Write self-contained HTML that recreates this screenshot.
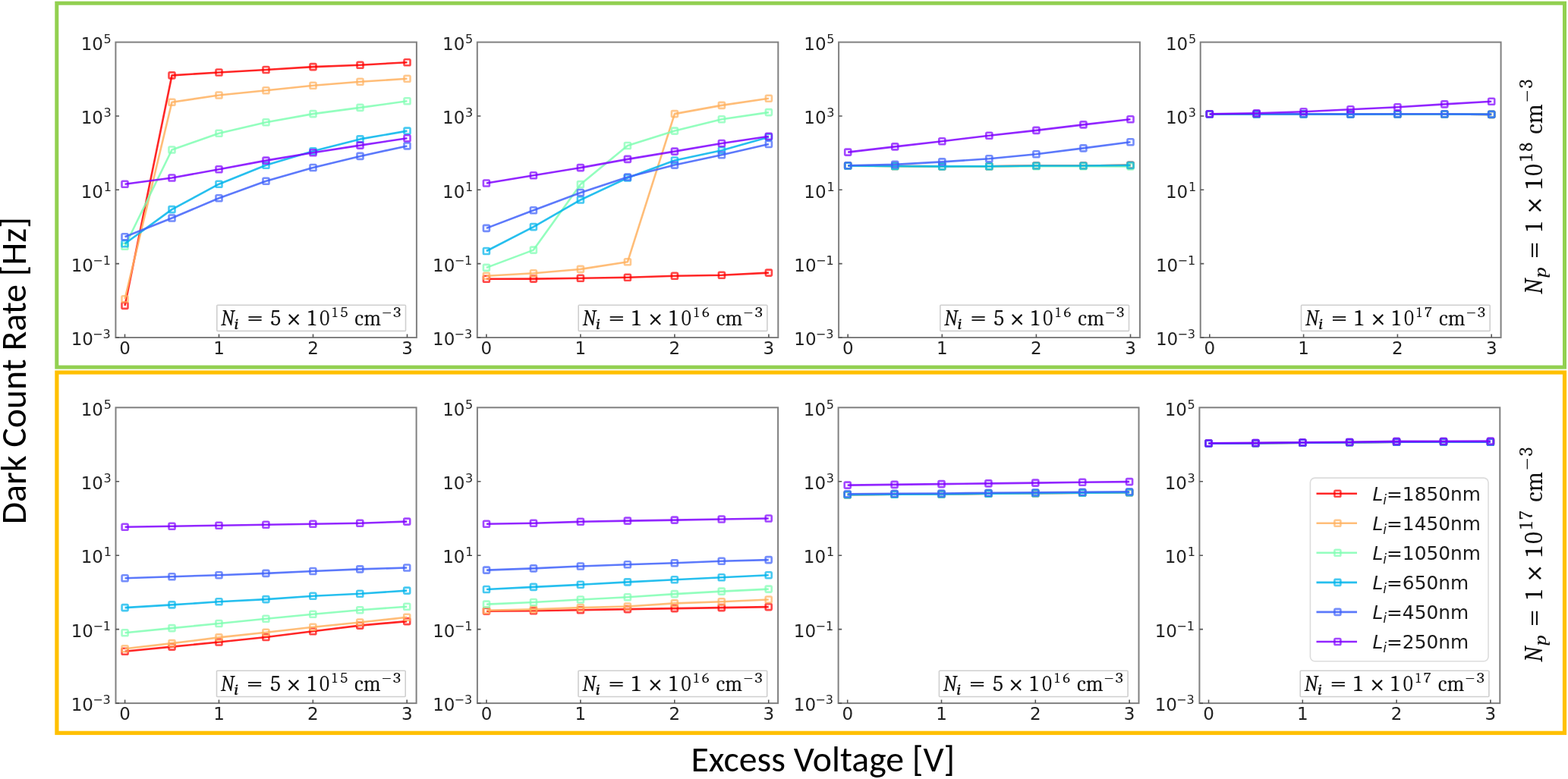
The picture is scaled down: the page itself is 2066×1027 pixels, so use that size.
<!DOCTYPE html><html><head><meta charset="utf-8"><title>Dark Count Rate vs Excess Voltage</title><style>html,body{margin:0;padding:0;background:#fff;}body{width:2066px;height:1027px;overflow:hidden;}svg{display:block;}.tk{font-family:"DejaVu Sans","Liberation Sans",sans-serif;font-size:23px;fill:#222;}.ann{font-family:"Caladea","Liberation Serif",serif;font-size:28.8px;fill:#111;}.lg{font-family:"DejaVu Sans","Liberation Sans",sans-serif;font-size:24px;fill:#1a1a1a;}.big{font-family:"Carlito","Liberation Sans",sans-serif;font-size:46.8px;fill:#000;}.np{font-family:"Caladea","Liberation Serif",serif;font-size:33px;fill:#111;}</style></head><body><svg width="2066" height="1027" viewBox="0 0 2066 1027"><rect x="0" y="0" width="2066" height="1027" fill="#fff"/><rect x="74.8" y="4.2" width="1986.7" height="479.9" fill="none" stroke="#92d050" stroke-width="5"/><rect x="74.9" y="491" width="1986.6" height="475.3" fill="none" stroke="#ffc000" stroke-width="5.2"/><g><polyline points="164.5,402.9 226.5,99.4 288.5,95.5 350.5,92 412.5,88.1 474.5,85.7 536.5,82.2" fill="none" stroke="#ff0000" stroke-width="2.6" stroke-opacity="0.85" stroke-linejoin="round"/><rect x="160.5" y="398.9" width="8" height="8" rx="1.3" fill="none" stroke="#ff0000" stroke-width="2.6" stroke-opacity="0.72"/><rect x="222.5" y="95.4" width="8" height="8" rx="1.3" fill="none" stroke="#ff0000" stroke-width="2.6" stroke-opacity="0.72"/><rect x="284.5" y="91.5" width="8" height="8" rx="1.3" fill="none" stroke="#ff0000" stroke-width="2.6" stroke-opacity="0.72"/><rect x="346.5" y="88" width="8" height="8" rx="1.3" fill="none" stroke="#ff0000" stroke-width="2.6" stroke-opacity="0.72"/><rect x="408.5" y="84.1" width="8" height="8" rx="1.3" fill="none" stroke="#ff0000" stroke-width="2.6" stroke-opacity="0.72"/><rect x="470.5" y="81.7" width="8" height="8" rx="1.3" fill="none" stroke="#ff0000" stroke-width="2.6" stroke-opacity="0.72"/><rect x="532.5" y="78.2" width="8" height="8" rx="1.3" fill="none" stroke="#ff0000" stroke-width="2.6" stroke-opacity="0.72"/><polyline points="164.5,394.3 226.5,134.8 288.5,125.5 350.5,119.2 412.5,112.7 474.5,107.8 536.5,103.7" fill="none" stroke="#ffb260" stroke-width="2.6" stroke-opacity="0.85" stroke-linejoin="round"/><rect x="160.5" y="390.3" width="8" height="8" rx="1.3" fill="none" stroke="#ffb260" stroke-width="2.6" stroke-opacity="0.72"/><rect x="222.5" y="130.8" width="8" height="8" rx="1.3" fill="none" stroke="#ffb260" stroke-width="2.6" stroke-opacity="0.72"/><rect x="284.5" y="121.5" width="8" height="8" rx="1.3" fill="none" stroke="#ffb260" stroke-width="2.6" stroke-opacity="0.72"/><rect x="346.5" y="115.2" width="8" height="8" rx="1.3" fill="none" stroke="#ffb260" stroke-width="2.6" stroke-opacity="0.72"/><rect x="408.5" y="108.7" width="8" height="8" rx="1.3" fill="none" stroke="#ffb260" stroke-width="2.6" stroke-opacity="0.72"/><rect x="470.5" y="103.8" width="8" height="8" rx="1.3" fill="none" stroke="#ffb260" stroke-width="2.6" stroke-opacity="0.72"/><rect x="532.5" y="99.7" width="8" height="8" rx="1.3" fill="none" stroke="#ffb260" stroke-width="2.6" stroke-opacity="0.72"/><polyline points="164.5,324.8 226.5,197.5 288.5,175.7 350.5,161.2 412.5,150.1 474.5,141.9 536.5,133.3" fill="none" stroke="#80feb3" stroke-width="2.6" stroke-opacity="0.85" stroke-linejoin="round"/><rect x="160.5" y="320.8" width="8" height="8" rx="1.3" fill="none" stroke="#80feb3" stroke-width="2.6" stroke-opacity="0.72"/><rect x="222.5" y="193.5" width="8" height="8" rx="1.3" fill="none" stroke="#80feb3" stroke-width="2.6" stroke-opacity="0.72"/><rect x="284.5" y="171.7" width="8" height="8" rx="1.3" fill="none" stroke="#80feb3" stroke-width="2.6" stroke-opacity="0.72"/><rect x="346.5" y="157.2" width="8" height="8" rx="1.3" fill="none" stroke="#80feb3" stroke-width="2.6" stroke-opacity="0.72"/><rect x="408.5" y="146.1" width="8" height="8" rx="1.3" fill="none" stroke="#80feb3" stroke-width="2.6" stroke-opacity="0.72"/><rect x="470.5" y="137.9" width="8" height="8" rx="1.3" fill="none" stroke="#80feb3" stroke-width="2.6" stroke-opacity="0.72"/><rect x="532.5" y="129.3" width="8" height="8" rx="1.3" fill="none" stroke="#80feb3" stroke-width="2.6" stroke-opacity="0.72"/><polyline points="164.5,321.2 226.5,276.1 288.5,242.7 350.5,217.8 412.5,199.2 474.5,183.4 536.5,172.6" fill="none" stroke="#00b4eb" stroke-width="2.6" stroke-opacity="0.85" stroke-linejoin="round"/><rect x="160.5" y="317.2" width="8" height="8" rx="1.3" fill="none" stroke="#00b4eb" stroke-width="2.6" stroke-opacity="0.72"/><rect x="222.5" y="272.1" width="8" height="8" rx="1.3" fill="none" stroke="#00b4eb" stroke-width="2.6" stroke-opacity="0.72"/><rect x="284.5" y="238.7" width="8" height="8" rx="1.3" fill="none" stroke="#00b4eb" stroke-width="2.6" stroke-opacity="0.72"/><rect x="346.5" y="213.8" width="8" height="8" rx="1.3" fill="none" stroke="#00b4eb" stroke-width="2.6" stroke-opacity="0.72"/><rect x="408.5" y="195.2" width="8" height="8" rx="1.3" fill="none" stroke="#00b4eb" stroke-width="2.6" stroke-opacity="0.72"/><rect x="470.5" y="179.4" width="8" height="8" rx="1.3" fill="none" stroke="#00b4eb" stroke-width="2.6" stroke-opacity="0.72"/><rect x="532.5" y="168.6" width="8" height="8" rx="1.3" fill="none" stroke="#00b4eb" stroke-width="2.6" stroke-opacity="0.72"/><polyline points="164.5,312.2 226.5,287.5 288.5,261.3 350.5,238.7 412.5,221 474.5,205.9 536.5,192.4" fill="none" stroke="#3f61fa" stroke-width="2.6" stroke-opacity="0.85" stroke-linejoin="round"/><rect x="160.5" y="308.2" width="8" height="8" rx="1.3" fill="none" stroke="#3f61fa" stroke-width="2.6" stroke-opacity="0.72"/><rect x="222.5" y="283.5" width="8" height="8" rx="1.3" fill="none" stroke="#3f61fa" stroke-width="2.6" stroke-opacity="0.72"/><rect x="284.5" y="257.3" width="8" height="8" rx="1.3" fill="none" stroke="#3f61fa" stroke-width="2.6" stroke-opacity="0.72"/><rect x="346.5" y="234.7" width="8" height="8" rx="1.3" fill="none" stroke="#3f61fa" stroke-width="2.6" stroke-opacity="0.72"/><rect x="408.5" y="217" width="8" height="8" rx="1.3" fill="none" stroke="#3f61fa" stroke-width="2.6" stroke-opacity="0.72"/><rect x="470.5" y="201.9" width="8" height="8" rx="1.3" fill="none" stroke="#3f61fa" stroke-width="2.6" stroke-opacity="0.72"/><rect x="532.5" y="188.4" width="8" height="8" rx="1.3" fill="none" stroke="#3f61fa" stroke-width="2.6" stroke-opacity="0.72"/><polyline points="164.5,242.7 226.5,234.5 288.5,223.2 350.5,211.6 412.5,201.2 474.5,191.6 536.5,182.2" fill="none" stroke="#7f00ff" stroke-width="2.6" stroke-opacity="0.85" stroke-linejoin="round"/><rect x="160.5" y="238.7" width="8" height="8" rx="1.3" fill="none" stroke="#7f00ff" stroke-width="2.6" stroke-opacity="0.72"/><rect x="222.5" y="230.5" width="8" height="8" rx="1.3" fill="none" stroke="#7f00ff" stroke-width="2.6" stroke-opacity="0.72"/><rect x="284.5" y="219.2" width="8" height="8" rx="1.3" fill="none" stroke="#7f00ff" stroke-width="2.6" stroke-opacity="0.72"/><rect x="346.5" y="207.6" width="8" height="8" rx="1.3" fill="none" stroke="#7f00ff" stroke-width="2.6" stroke-opacity="0.72"/><rect x="408.5" y="197.2" width="8" height="8" rx="1.3" fill="none" stroke="#7f00ff" stroke-width="2.6" stroke-opacity="0.72"/><rect x="470.5" y="187.6" width="8" height="8" rx="1.3" fill="none" stroke="#7f00ff" stroke-width="2.6" stroke-opacity="0.72"/><rect x="532.5" y="178.2" width="8" height="8" rx="1.3" fill="none" stroke="#7f00ff" stroke-width="2.6" stroke-opacity="0.72"/></g><rect x="152.4" y="55.6" width="396.5" height="389.4" fill="none" stroke="#808080" stroke-width="2"/><path d="M152.4 445h4.6M152.4 347.65h4.6M152.4 250.3h4.6M152.4 152.95h4.6M164.5 445v-4.6M288.5 445v-4.6M412.5 445v-4.6M536.5 445v-4.6" stroke="#555" stroke-width="1.6" fill="none"/><text class="tk" x="122.93" y="455.2" text-anchor="end">10</text><text class="tk" x="145.68" y="446.2" text-anchor="end" style="font-size:16px">−3</text><text class="tk" x="122.93" y="357.85" text-anchor="end">10</text><text class="tk" x="145.88" y="348.85" text-anchor="end" style="font-size:16px">−1</text><text class="tk" x="135.93" y="260.5" text-anchor="end">10</text><text class="tk" x="146.88" y="251.5" text-anchor="end" style="font-size:16px">1</text><text class="tk" x="135.93" y="163.15" text-anchor="end">10</text><text class="tk" x="146.68" y="154.15" text-anchor="end" style="font-size:16px">3</text><text class="tk" x="135.93" y="65.8" text-anchor="end">10</text><text class="tk" x="146.8" y="56.8" text-anchor="end" style="font-size:16px">5</text><text class="tk" x="164.5" y="466.5" text-anchor="middle">0</text><text class="tk" x="288.5" y="466.5" text-anchor="middle">1</text><text class="tk" x="412.5" y="466.5" text-anchor="middle">2</text><text class="tk" x="536.5" y="466.5" text-anchor="middle">3</text><rect x="285.8" y="402.2" width="248.7" height="34.2" fill="#fff" fill-opacity="0.8" stroke="#cfcfcf" stroke-width="1.6" rx="1"/><g fill="#111"><text x="291.05" y="429.3" textLength="17.84" lengthAdjust="spacingAndGlyphs" style="font-family:'Caladea','Liberation Serif',serif;font-size:29px;font-style:italic;">N</text><text x="308.07" y="433.9" textLength="6.96" lengthAdjust="spacingAndGlyphs" style="font-family:'Caladea','Liberation Serif',serif;font-size:20px;font-style:italic;">i</text><text x="324.92" y="429.3" textLength="22.16" lengthAdjust="spacingAndGlyphs" style="font-family:'Caladea','Liberation Serif',serif;font-size:31px;">=</text><text x="356.37" y="429.3" textLength="14.02" lengthAdjust="spacingAndGlyphs" style="font-family:'Caladea','Liberation Serif',serif;font-size:29px;">5</text><text x="377.02" y="431.8" textLength="20.35" lengthAdjust="spacingAndGlyphs" style="font-family:'Caladea','Liberation Serif',serif;font-size:37.5px;">×</text><text x="405.48" y="429.3" textLength="10.62" lengthAdjust="spacingAndGlyphs" style="font-family:'Caladea','Liberation Serif',serif;font-size:29px;">1</text><text x="421.35" y="429.3" textLength="13.01" lengthAdjust="spacingAndGlyphs" style="font-family:'Caladea','Liberation Serif',serif;font-size:29px;">0</text><text x="437.82" y="418.1" textLength="6.6" lengthAdjust="spacingAndGlyphs" style="font-family:'Caladea','Liberation Serif',serif;font-size:19px;">1</text><text x="448.51" y="418.1" textLength="10.08" lengthAdjust="spacingAndGlyphs" style="font-family:'Caladea','Liberation Serif',serif;font-size:19px;">5</text><text x="467.31" y="429.3" textLength="34.75" lengthAdjust="spacingAndGlyphs" style="font-family:'Caladea','Liberation Serif',serif;font-size:29px;">cm</text><text x="502.24" y="418.1" textLength="14.82" lengthAdjust="spacingAndGlyphs" style="font-family:'Caladea','Liberation Serif',serif;font-size:19px;">−</text><text x="518" y="418.1" textLength="10.41" lengthAdjust="spacingAndGlyphs" style="font-family:'Caladea','Liberation Serif',serif;font-size:19px;">3</text></g><g><polyline points="640.9,367.8 702.9,367.6 764.9,366.8 826.9,365.8 888.9,363.7 950.9,362.7 1012.9,359.6" fill="none" stroke="#ff0000" stroke-width="2.6" stroke-opacity="0.85" stroke-linejoin="round"/><rect x="636.9" y="363.8" width="8" height="8" rx="1.3" fill="none" stroke="#ff0000" stroke-width="2.6" stroke-opacity="0.72"/><rect x="698.9" y="363.6" width="8" height="8" rx="1.3" fill="none" stroke="#ff0000" stroke-width="2.6" stroke-opacity="0.72"/><rect x="760.9" y="362.8" width="8" height="8" rx="1.3" fill="none" stroke="#ff0000" stroke-width="2.6" stroke-opacity="0.72"/><rect x="822.9" y="361.8" width="8" height="8" rx="1.3" fill="none" stroke="#ff0000" stroke-width="2.6" stroke-opacity="0.72"/><rect x="884.9" y="359.7" width="8" height="8" rx="1.3" fill="none" stroke="#ff0000" stroke-width="2.6" stroke-opacity="0.72"/><rect x="946.9" y="358.7" width="8" height="8" rx="1.3" fill="none" stroke="#ff0000" stroke-width="2.6" stroke-opacity="0.72"/><rect x="1008.9" y="355.6" width="8" height="8" rx="1.3" fill="none" stroke="#ff0000" stroke-width="2.6" stroke-opacity="0.72"/><polyline points="640.9,363.7 702.9,360.2 764.9,354.9 826.9,345.3 888.9,150.1 950.9,138.9 1012.9,129.7" fill="none" stroke="#ffb260" stroke-width="2.6" stroke-opacity="0.85" stroke-linejoin="round"/><rect x="636.9" y="359.7" width="8" height="8" rx="1.3" fill="none" stroke="#ffb260" stroke-width="2.6" stroke-opacity="0.72"/><rect x="698.9" y="356.2" width="8" height="8" rx="1.3" fill="none" stroke="#ffb260" stroke-width="2.6" stroke-opacity="0.72"/><rect x="760.9" y="350.9" width="8" height="8" rx="1.3" fill="none" stroke="#ffb260" stroke-width="2.6" stroke-opacity="0.72"/><rect x="822.9" y="341.3" width="8" height="8" rx="1.3" fill="none" stroke="#ffb260" stroke-width="2.6" stroke-opacity="0.72"/><rect x="884.9" y="146.1" width="8" height="8" rx="1.3" fill="none" stroke="#ffb260" stroke-width="2.6" stroke-opacity="0.72"/><rect x="946.9" y="134.9" width="8" height="8" rx="1.3" fill="none" stroke="#ffb260" stroke-width="2.6" stroke-opacity="0.72"/><rect x="1008.9" y="125.7" width="8" height="8" rx="1.3" fill="none" stroke="#ffb260" stroke-width="2.6" stroke-opacity="0.72"/><polyline points="640.9,352.9 702.9,329.6 764.9,243.1 826.9,192 888.9,172.6 950.9,157.3 1012.9,148.1" fill="none" stroke="#80feb3" stroke-width="2.6" stroke-opacity="0.85" stroke-linejoin="round"/><rect x="636.9" y="348.9" width="8" height="8" rx="1.3" fill="none" stroke="#80feb3" stroke-width="2.6" stroke-opacity="0.72"/><rect x="698.9" y="325.6" width="8" height="8" rx="1.3" fill="none" stroke="#80feb3" stroke-width="2.6" stroke-opacity="0.72"/><rect x="760.9" y="239.1" width="8" height="8" rx="1.3" fill="none" stroke="#80feb3" stroke-width="2.6" stroke-opacity="0.72"/><rect x="822.9" y="188" width="8" height="8" rx="1.3" fill="none" stroke="#80feb3" stroke-width="2.6" stroke-opacity="0.72"/><rect x="884.9" y="168.6" width="8" height="8" rx="1.3" fill="none" stroke="#80feb3" stroke-width="2.6" stroke-opacity="0.72"/><rect x="946.9" y="153.3" width="8" height="8" rx="1.3" fill="none" stroke="#80feb3" stroke-width="2.6" stroke-opacity="0.72"/><rect x="1008.9" y="144.1" width="8" height="8" rx="1.3" fill="none" stroke="#80feb3" stroke-width="2.6" stroke-opacity="0.72"/><polyline points="640.9,331 702.9,299.1 764.9,263.5 826.9,234.5 888.9,211.5 950.9,198.2 1012.9,180.8" fill="none" stroke="#00b4eb" stroke-width="2.6" stroke-opacity="0.85" stroke-linejoin="round"/><rect x="636.9" y="327" width="8" height="8" rx="1.3" fill="none" stroke="#00b4eb" stroke-width="2.6" stroke-opacity="0.72"/><rect x="698.9" y="295.1" width="8" height="8" rx="1.3" fill="none" stroke="#00b4eb" stroke-width="2.6" stroke-opacity="0.72"/><rect x="760.9" y="259.5" width="8" height="8" rx="1.3" fill="none" stroke="#00b4eb" stroke-width="2.6" stroke-opacity="0.72"/><rect x="822.9" y="230.5" width="8" height="8" rx="1.3" fill="none" stroke="#00b4eb" stroke-width="2.6" stroke-opacity="0.72"/><rect x="884.9" y="207.5" width="8" height="8" rx="1.3" fill="none" stroke="#00b4eb" stroke-width="2.6" stroke-opacity="0.72"/><rect x="946.9" y="194.2" width="8" height="8" rx="1.3" fill="none" stroke="#00b4eb" stroke-width="2.6" stroke-opacity="0.72"/><rect x="1008.9" y="176.8" width="8" height="8" rx="1.3" fill="none" stroke="#00b4eb" stroke-width="2.6" stroke-opacity="0.72"/><polyline points="640.9,300.9 702.9,277.2 764.9,254 826.9,233.5 888.9,217.6 950.9,204.3 1012.9,190" fill="none" stroke="#3f61fa" stroke-width="2.6" stroke-opacity="0.85" stroke-linejoin="round"/><rect x="636.9" y="296.9" width="8" height="8" rx="1.3" fill="none" stroke="#3f61fa" stroke-width="2.6" stroke-opacity="0.72"/><rect x="698.9" y="273.2" width="8" height="8" rx="1.3" fill="none" stroke="#3f61fa" stroke-width="2.6" stroke-opacity="0.72"/><rect x="760.9" y="250" width="8" height="8" rx="1.3" fill="none" stroke="#3f61fa" stroke-width="2.6" stroke-opacity="0.72"/><rect x="822.9" y="229.5" width="8" height="8" rx="1.3" fill="none" stroke="#3f61fa" stroke-width="2.6" stroke-opacity="0.72"/><rect x="884.9" y="213.6" width="8" height="8" rx="1.3" fill="none" stroke="#3f61fa" stroke-width="2.6" stroke-opacity="0.72"/><rect x="946.9" y="200.3" width="8" height="8" rx="1.3" fill="none" stroke="#3f61fa" stroke-width="2.6" stroke-opacity="0.72"/><rect x="1008.9" y="186" width="8" height="8" rx="1.3" fill="none" stroke="#3f61fa" stroke-width="2.6" stroke-opacity="0.72"/><polyline points="640.9,241.5 702.9,231.3 764.9,221.1 826.9,209.9 888.9,199.6 950.9,189 1012.9,179.8" fill="none" stroke="#7f00ff" stroke-width="2.6" stroke-opacity="0.85" stroke-linejoin="round"/><rect x="636.9" y="237.5" width="8" height="8" rx="1.3" fill="none" stroke="#7f00ff" stroke-width="2.6" stroke-opacity="0.72"/><rect x="698.9" y="227.3" width="8" height="8" rx="1.3" fill="none" stroke="#7f00ff" stroke-width="2.6" stroke-opacity="0.72"/><rect x="760.9" y="217.1" width="8" height="8" rx="1.3" fill="none" stroke="#7f00ff" stroke-width="2.6" stroke-opacity="0.72"/><rect x="822.9" y="205.9" width="8" height="8" rx="1.3" fill="none" stroke="#7f00ff" stroke-width="2.6" stroke-opacity="0.72"/><rect x="884.9" y="195.6" width="8" height="8" rx="1.3" fill="none" stroke="#7f00ff" stroke-width="2.6" stroke-opacity="0.72"/><rect x="946.9" y="185" width="8" height="8" rx="1.3" fill="none" stroke="#7f00ff" stroke-width="2.6" stroke-opacity="0.72"/><rect x="1008.9" y="175.8" width="8" height="8" rx="1.3" fill="none" stroke="#7f00ff" stroke-width="2.6" stroke-opacity="0.72"/></g><rect x="628.8" y="55.6" width="396.5" height="389.4" fill="none" stroke="#808080" stroke-width="2"/><path d="M628.8 445h4.6M628.8 347.65h4.6M628.8 250.3h4.6M628.8 152.95h4.6M640.9 445v-4.6M764.9 445v-4.6M888.9 445v-4.6M1012.9 445v-4.6" stroke="#555" stroke-width="1.6" fill="none"/><text class="tk" x="599.33" y="455.2" text-anchor="end">10</text><text class="tk" x="622.08" y="446.2" text-anchor="end" style="font-size:16px">−3</text><text class="tk" x="599.33" y="357.85" text-anchor="end">10</text><text class="tk" x="622.28" y="348.85" text-anchor="end" style="font-size:16px">−1</text><text class="tk" x="612.33" y="260.5" text-anchor="end">10</text><text class="tk" x="623.28" y="251.5" text-anchor="end" style="font-size:16px">1</text><text class="tk" x="612.33" y="163.15" text-anchor="end">10</text><text class="tk" x="623.08" y="154.15" text-anchor="end" style="font-size:16px">3</text><text class="tk" x="612.33" y="65.8" text-anchor="end">10</text><text class="tk" x="623.2" y="56.8" text-anchor="end" style="font-size:16px">5</text><text class="tk" x="640.9" y="466.5" text-anchor="middle">0</text><text class="tk" x="764.9" y="466.5" text-anchor="middle">1</text><text class="tk" x="888.9" y="466.5" text-anchor="middle">2</text><text class="tk" x="1012.9" y="466.5" text-anchor="middle">3</text><rect x="762.2" y="402.2" width="248.7" height="34.2" fill="#fff" fill-opacity="0.8" stroke="#cfcfcf" stroke-width="1.6" rx="1"/><g fill="#111"><text x="767.45" y="429.3" textLength="17.84" lengthAdjust="spacingAndGlyphs" style="font-family:'Caladea','Liberation Serif',serif;font-size:29px;font-style:italic;">N</text><text x="784.47" y="433.9" textLength="6.96" lengthAdjust="spacingAndGlyphs" style="font-family:'Caladea','Liberation Serif',serif;font-size:20px;font-style:italic;">i</text><text x="801.32" y="429.3" textLength="22.16" lengthAdjust="spacingAndGlyphs" style="font-family:'Caladea','Liberation Serif',serif;font-size:31px;">=</text><text x="832.54" y="429.3" textLength="11.34" lengthAdjust="spacingAndGlyphs" style="font-family:'Caladea','Liberation Serif',serif;font-size:29px;">1</text><text x="853.42" y="431.8" textLength="20.35" lengthAdjust="spacingAndGlyphs" style="font-family:'Caladea','Liberation Serif',serif;font-size:37.5px;">×</text><text x="881.88" y="429.3" textLength="10.62" lengthAdjust="spacingAndGlyphs" style="font-family:'Caladea','Liberation Serif',serif;font-size:29px;">1</text><text x="897.75" y="429.3" textLength="13.01" lengthAdjust="spacingAndGlyphs" style="font-family:'Caladea','Liberation Serif',serif;font-size:29px;">0</text><text x="914.22" y="418.1" textLength="6.6" lengthAdjust="spacingAndGlyphs" style="font-family:'Caladea','Liberation Serif',serif;font-size:19px;">1</text><text x="924.96" y="418.1" textLength="9.71" lengthAdjust="spacingAndGlyphs" style="font-family:'Caladea','Liberation Serif',serif;font-size:19px;">6</text><text x="943.71" y="429.3" textLength="34.75" lengthAdjust="spacingAndGlyphs" style="font-family:'Caladea','Liberation Serif',serif;font-size:29px;">cm</text><text x="978.64" y="418.1" textLength="14.82" lengthAdjust="spacingAndGlyphs" style="font-family:'Caladea','Liberation Serif',serif;font-size:19px;">−</text><text x="994.4" y="418.1" textLength="10.41" lengthAdjust="spacingAndGlyphs" style="font-family:'Caladea','Liberation Serif',serif;font-size:19px;">3</text></g><g><polyline points="1117.2,218.5 1179.25,219 1241.3,219.4 1303.35,219.2 1365.4,218.5 1427.45,218.5 1489.5,217.9" fill="none" stroke="#ff0000" stroke-width="2.6" stroke-opacity="0.85" stroke-linejoin="round"/><rect x="1113.2" y="214.5" width="8" height="8" rx="1.3" fill="none" stroke="#ff0000" stroke-width="2.6" stroke-opacity="0.72"/><rect x="1175.25" y="215" width="8" height="8" rx="1.3" fill="none" stroke="#ff0000" stroke-width="2.6" stroke-opacity="0.72"/><rect x="1237.3" y="215.4" width="8" height="8" rx="1.3" fill="none" stroke="#ff0000" stroke-width="2.6" stroke-opacity="0.72"/><rect x="1299.35" y="215.2" width="8" height="8" rx="1.3" fill="none" stroke="#ff0000" stroke-width="2.6" stroke-opacity="0.72"/><rect x="1361.4" y="214.5" width="8" height="8" rx="1.3" fill="none" stroke="#ff0000" stroke-width="2.6" stroke-opacity="0.72"/><rect x="1423.45" y="214.5" width="8" height="8" rx="1.3" fill="none" stroke="#ff0000" stroke-width="2.6" stroke-opacity="0.72"/><rect x="1485.5" y="213.9" width="8" height="8" rx="1.3" fill="none" stroke="#ff0000" stroke-width="2.6" stroke-opacity="0.72"/><polyline points="1117.2,218.5 1179.25,219 1241.3,219.4 1303.35,219.2 1365.4,218.5 1427.45,218.5 1489.5,217.9" fill="none" stroke="#ffb260" stroke-width="2.6" stroke-opacity="0.85" stroke-linejoin="round"/><rect x="1113.2" y="214.5" width="8" height="8" rx="1.3" fill="none" stroke="#ffb260" stroke-width="2.6" stroke-opacity="0.72"/><rect x="1175.25" y="215" width="8" height="8" rx="1.3" fill="none" stroke="#ffb260" stroke-width="2.6" stroke-opacity="0.72"/><rect x="1237.3" y="215.4" width="8" height="8" rx="1.3" fill="none" stroke="#ffb260" stroke-width="2.6" stroke-opacity="0.72"/><rect x="1299.35" y="215.2" width="8" height="8" rx="1.3" fill="none" stroke="#ffb260" stroke-width="2.6" stroke-opacity="0.72"/><rect x="1361.4" y="214.5" width="8" height="8" rx="1.3" fill="none" stroke="#ffb260" stroke-width="2.6" stroke-opacity="0.72"/><rect x="1423.45" y="214.5" width="8" height="8" rx="1.3" fill="none" stroke="#ffb260" stroke-width="2.6" stroke-opacity="0.72"/><rect x="1485.5" y="213.9" width="8" height="8" rx="1.3" fill="none" stroke="#ffb260" stroke-width="2.6" stroke-opacity="0.72"/><polyline points="1117.2,218.8 1179.25,219.2 1241.3,219.4 1303.35,219.4 1365.4,219.2 1427.45,219.2 1489.5,219.4" fill="none" stroke="#80feb3" stroke-width="2.6" stroke-opacity="0.85" stroke-linejoin="round"/><rect x="1113.2" y="214.8" width="8" height="8" rx="1.3" fill="none" stroke="#80feb3" stroke-width="2.6" stroke-opacity="0.72"/><rect x="1175.25" y="215.2" width="8" height="8" rx="1.3" fill="none" stroke="#80feb3" stroke-width="2.6" stroke-opacity="0.72"/><rect x="1237.3" y="215.4" width="8" height="8" rx="1.3" fill="none" stroke="#80feb3" stroke-width="2.6" stroke-opacity="0.72"/><rect x="1299.35" y="215.4" width="8" height="8" rx="1.3" fill="none" stroke="#80feb3" stroke-width="2.6" stroke-opacity="0.72"/><rect x="1361.4" y="215.2" width="8" height="8" rx="1.3" fill="none" stroke="#80feb3" stroke-width="2.6" stroke-opacity="0.72"/><rect x="1423.45" y="215.2" width="8" height="8" rx="1.3" fill="none" stroke="#80feb3" stroke-width="2.6" stroke-opacity="0.72"/><rect x="1485.5" y="215.4" width="8" height="8" rx="1.3" fill="none" stroke="#80feb3" stroke-width="2.6" stroke-opacity="0.72"/><polyline points="1117.2,218.5 1179.25,219 1241.3,219.4 1303.35,219.2 1365.4,218.5 1427.45,218.5 1489.5,217.9" fill="none" stroke="#00b4eb" stroke-width="2.6" stroke-opacity="0.85" stroke-linejoin="round"/><rect x="1113.2" y="214.5" width="8" height="8" rx="1.3" fill="none" stroke="#00b4eb" stroke-width="2.6" stroke-opacity="0.72"/><rect x="1175.25" y="215" width="8" height="8" rx="1.3" fill="none" stroke="#00b4eb" stroke-width="2.6" stroke-opacity="0.72"/><rect x="1237.3" y="215.4" width="8" height="8" rx="1.3" fill="none" stroke="#00b4eb" stroke-width="2.6" stroke-opacity="0.72"/><rect x="1299.35" y="215.2" width="8" height="8" rx="1.3" fill="none" stroke="#00b4eb" stroke-width="2.6" stroke-opacity="0.72"/><rect x="1361.4" y="214.5" width="8" height="8" rx="1.3" fill="none" stroke="#00b4eb" stroke-width="2.6" stroke-opacity="0.72"/><rect x="1423.45" y="214.5" width="8" height="8" rx="1.3" fill="none" stroke="#00b4eb" stroke-width="2.6" stroke-opacity="0.72"/><rect x="1485.5" y="213.9" width="8" height="8" rx="1.3" fill="none" stroke="#00b4eb" stroke-width="2.6" stroke-opacity="0.72"/><polyline points="1117.2,218.3 1179.25,216.9 1241.3,213.4 1303.35,209.3 1365.4,203.2 1427.45,195.4 1489.5,187.3" fill="none" stroke="#3f61fa" stroke-width="2.6" stroke-opacity="0.85" stroke-linejoin="round"/><rect x="1113.2" y="214.3" width="8" height="8" rx="1.3" fill="none" stroke="#3f61fa" stroke-width="2.6" stroke-opacity="0.72"/><rect x="1175.25" y="212.9" width="8" height="8" rx="1.3" fill="none" stroke="#3f61fa" stroke-width="2.6" stroke-opacity="0.72"/><rect x="1237.3" y="209.4" width="8" height="8" rx="1.3" fill="none" stroke="#3f61fa" stroke-width="2.6" stroke-opacity="0.72"/><rect x="1299.35" y="205.3" width="8" height="8" rx="1.3" fill="none" stroke="#3f61fa" stroke-width="2.6" stroke-opacity="0.72"/><rect x="1361.4" y="199.2" width="8" height="8" rx="1.3" fill="none" stroke="#3f61fa" stroke-width="2.6" stroke-opacity="0.72"/><rect x="1423.45" y="191.4" width="8" height="8" rx="1.3" fill="none" stroke="#3f61fa" stroke-width="2.6" stroke-opacity="0.72"/><rect x="1485.5" y="183.3" width="8" height="8" rx="1.3" fill="none" stroke="#3f61fa" stroke-width="2.6" stroke-opacity="0.72"/><polyline points="1117.2,200.6 1179.25,193.4 1241.3,186.2 1303.35,178.7 1365.4,171.9 1427.45,164.4 1489.5,157.2" fill="none" stroke="#7f00ff" stroke-width="2.6" stroke-opacity="0.85" stroke-linejoin="round"/><rect x="1113.2" y="196.6" width="8" height="8" rx="1.3" fill="none" stroke="#7f00ff" stroke-width="2.6" stroke-opacity="0.72"/><rect x="1175.25" y="189.4" width="8" height="8" rx="1.3" fill="none" stroke="#7f00ff" stroke-width="2.6" stroke-opacity="0.72"/><rect x="1237.3" y="182.2" width="8" height="8" rx="1.3" fill="none" stroke="#7f00ff" stroke-width="2.6" stroke-opacity="0.72"/><rect x="1299.35" y="174.7" width="8" height="8" rx="1.3" fill="none" stroke="#7f00ff" stroke-width="2.6" stroke-opacity="0.72"/><rect x="1361.4" y="167.9" width="8" height="8" rx="1.3" fill="none" stroke="#7f00ff" stroke-width="2.6" stroke-opacity="0.72"/><rect x="1423.45" y="160.4" width="8" height="8" rx="1.3" fill="none" stroke="#7f00ff" stroke-width="2.6" stroke-opacity="0.72"/><rect x="1485.5" y="153.2" width="8" height="8" rx="1.3" fill="none" stroke="#7f00ff" stroke-width="2.6" stroke-opacity="0.72"/></g><rect x="1105.1" y="55.6" width="396.8" height="389.4" fill="none" stroke="#808080" stroke-width="2"/><path d="M1105.1 445h4.6M1105.1 347.65h4.6M1105.1 250.3h4.6M1105.1 152.95h4.6M1117.2 445v-4.6M1241.3 445v-4.6M1365.4 445v-4.6M1489.5 445v-4.6" stroke="#555" stroke-width="1.6" fill="none"/><text class="tk" x="1075.63" y="455.2" text-anchor="end">10</text><text class="tk" x="1098.38" y="446.2" text-anchor="end" style="font-size:16px">−3</text><text class="tk" x="1075.63" y="357.85" text-anchor="end">10</text><text class="tk" x="1098.58" y="348.85" text-anchor="end" style="font-size:16px">−1</text><text class="tk" x="1088.63" y="260.5" text-anchor="end">10</text><text class="tk" x="1099.58" y="251.5" text-anchor="end" style="font-size:16px">1</text><text class="tk" x="1088.63" y="163.15" text-anchor="end">10</text><text class="tk" x="1099.38" y="154.15" text-anchor="end" style="font-size:16px">3</text><text class="tk" x="1088.63" y="65.8" text-anchor="end">10</text><text class="tk" x="1099.5" y="56.8" text-anchor="end" style="font-size:16px">5</text><text class="tk" x="1117.2" y="466.5" text-anchor="middle">0</text><text class="tk" x="1241.3" y="466.5" text-anchor="middle">1</text><text class="tk" x="1365.4" y="466.5" text-anchor="middle">2</text><text class="tk" x="1489.5" y="466.5" text-anchor="middle">3</text><rect x="1238.8" y="402.2" width="248.7" height="34.2" fill="#fff" fill-opacity="0.8" stroke="#cfcfcf" stroke-width="1.6" rx="1"/><g fill="#111"><text x="1244.05" y="429.3" textLength="17.84" lengthAdjust="spacingAndGlyphs" style="font-family:'Caladea','Liberation Serif',serif;font-size:29px;font-style:italic;">N</text><text x="1261.07" y="433.9" textLength="6.96" lengthAdjust="spacingAndGlyphs" style="font-family:'Caladea','Liberation Serif',serif;font-size:20px;font-style:italic;">i</text><text x="1277.92" y="429.3" textLength="22.16" lengthAdjust="spacingAndGlyphs" style="font-family:'Caladea','Liberation Serif',serif;font-size:31px;">=</text><text x="1309.37" y="429.3" textLength="14.02" lengthAdjust="spacingAndGlyphs" style="font-family:'Caladea','Liberation Serif',serif;font-size:29px;">5</text><text x="1330.02" y="431.8" textLength="20.35" lengthAdjust="spacingAndGlyphs" style="font-family:'Caladea','Liberation Serif',serif;font-size:37.5px;">×</text><text x="1358.48" y="429.3" textLength="10.62" lengthAdjust="spacingAndGlyphs" style="font-family:'Caladea','Liberation Serif',serif;font-size:29px;">1</text><text x="1374.35" y="429.3" textLength="13.01" lengthAdjust="spacingAndGlyphs" style="font-family:'Caladea','Liberation Serif',serif;font-size:29px;">0</text><text x="1390.82" y="418.1" textLength="6.6" lengthAdjust="spacingAndGlyphs" style="font-family:'Caladea','Liberation Serif',serif;font-size:19px;">1</text><text x="1401.56" y="418.1" textLength="9.71" lengthAdjust="spacingAndGlyphs" style="font-family:'Caladea','Liberation Serif',serif;font-size:19px;">6</text><text x="1420.31" y="429.3" textLength="34.75" lengthAdjust="spacingAndGlyphs" style="font-family:'Caladea','Liberation Serif',serif;font-size:29px;">cm</text><text x="1455.24" y="418.1" textLength="14.82" lengthAdjust="spacingAndGlyphs" style="font-family:'Caladea','Liberation Serif',serif;font-size:19px;">−</text><text x="1471" y="418.1" textLength="10.41" lengthAdjust="spacingAndGlyphs" style="font-family:'Caladea','Liberation Serif',serif;font-size:19px;">3</text></g><g><polyline points="1593.8,150.5 1655.7,150.5 1717.6,150.5 1779.5,150.6 1841.4,150.5 1903.3,150.5 1965.2,150.9" fill="none" stroke="#ff0000" stroke-width="2.6" stroke-opacity="0.85" stroke-linejoin="round"/><rect x="1589.8" y="146.5" width="8" height="8" rx="1.3" fill="none" stroke="#ff0000" stroke-width="2.6" stroke-opacity="0.72"/><rect x="1651.7" y="146.5" width="8" height="8" rx="1.3" fill="none" stroke="#ff0000" stroke-width="2.6" stroke-opacity="0.72"/><rect x="1713.6" y="146.5" width="8" height="8" rx="1.3" fill="none" stroke="#ff0000" stroke-width="2.6" stroke-opacity="0.72"/><rect x="1775.5" y="146.6" width="8" height="8" rx="1.3" fill="none" stroke="#ff0000" stroke-width="2.6" stroke-opacity="0.72"/><rect x="1837.4" y="146.5" width="8" height="8" rx="1.3" fill="none" stroke="#ff0000" stroke-width="2.6" stroke-opacity="0.72"/><rect x="1899.3" y="146.5" width="8" height="8" rx="1.3" fill="none" stroke="#ff0000" stroke-width="2.6" stroke-opacity="0.72"/><rect x="1961.2" y="146.9" width="8" height="8" rx="1.3" fill="none" stroke="#ff0000" stroke-width="2.6" stroke-opacity="0.72"/><polyline points="1593.8,150.5 1655.7,150.5 1717.6,150.5 1779.5,150.6 1841.4,150.5 1903.3,150.5 1965.2,150.9" fill="none" stroke="#ffb260" stroke-width="2.6" stroke-opacity="0.85" stroke-linejoin="round"/><rect x="1589.8" y="146.5" width="8" height="8" rx="1.3" fill="none" stroke="#ffb260" stroke-width="2.6" stroke-opacity="0.72"/><rect x="1651.7" y="146.5" width="8" height="8" rx="1.3" fill="none" stroke="#ffb260" stroke-width="2.6" stroke-opacity="0.72"/><rect x="1713.6" y="146.5" width="8" height="8" rx="1.3" fill="none" stroke="#ffb260" stroke-width="2.6" stroke-opacity="0.72"/><rect x="1775.5" y="146.6" width="8" height="8" rx="1.3" fill="none" stroke="#ffb260" stroke-width="2.6" stroke-opacity="0.72"/><rect x="1837.4" y="146.5" width="8" height="8" rx="1.3" fill="none" stroke="#ffb260" stroke-width="2.6" stroke-opacity="0.72"/><rect x="1899.3" y="146.5" width="8" height="8" rx="1.3" fill="none" stroke="#ffb260" stroke-width="2.6" stroke-opacity="0.72"/><rect x="1961.2" y="146.9" width="8" height="8" rx="1.3" fill="none" stroke="#ffb260" stroke-width="2.6" stroke-opacity="0.72"/><polyline points="1593.8,150.5 1655.7,150.5 1717.6,150.5 1779.5,150.6 1841.4,150.5 1903.3,150.5 1965.2,150.9" fill="none" stroke="#80feb3" stroke-width="2.6" stroke-opacity="0.85" stroke-linejoin="round"/><rect x="1589.8" y="146.5" width="8" height="8" rx="1.3" fill="none" stroke="#80feb3" stroke-width="2.6" stroke-opacity="0.72"/><rect x="1651.7" y="146.5" width="8" height="8" rx="1.3" fill="none" stroke="#80feb3" stroke-width="2.6" stroke-opacity="0.72"/><rect x="1713.6" y="146.5" width="8" height="8" rx="1.3" fill="none" stroke="#80feb3" stroke-width="2.6" stroke-opacity="0.72"/><rect x="1775.5" y="146.6" width="8" height="8" rx="1.3" fill="none" stroke="#80feb3" stroke-width="2.6" stroke-opacity="0.72"/><rect x="1837.4" y="146.5" width="8" height="8" rx="1.3" fill="none" stroke="#80feb3" stroke-width="2.6" stroke-opacity="0.72"/><rect x="1899.3" y="146.5" width="8" height="8" rx="1.3" fill="none" stroke="#80feb3" stroke-width="2.6" stroke-opacity="0.72"/><rect x="1961.2" y="146.9" width="8" height="8" rx="1.3" fill="none" stroke="#80feb3" stroke-width="2.6" stroke-opacity="0.72"/><polyline points="1593.8,150.5 1655.7,150.5 1717.6,150.5 1779.5,150.6 1841.4,150.5 1903.3,150.5 1965.2,150.9" fill="none" stroke="#00b4eb" stroke-width="2.6" stroke-opacity="0.85" stroke-linejoin="round"/><rect x="1589.8" y="146.5" width="8" height="8" rx="1.3" fill="none" stroke="#00b4eb" stroke-width="2.6" stroke-opacity="0.72"/><rect x="1651.7" y="146.5" width="8" height="8" rx="1.3" fill="none" stroke="#00b4eb" stroke-width="2.6" stroke-opacity="0.72"/><rect x="1713.6" y="146.5" width="8" height="8" rx="1.3" fill="none" stroke="#00b4eb" stroke-width="2.6" stroke-opacity="0.72"/><rect x="1775.5" y="146.6" width="8" height="8" rx="1.3" fill="none" stroke="#00b4eb" stroke-width="2.6" stroke-opacity="0.72"/><rect x="1837.4" y="146.5" width="8" height="8" rx="1.3" fill="none" stroke="#00b4eb" stroke-width="2.6" stroke-opacity="0.72"/><rect x="1899.3" y="146.5" width="8" height="8" rx="1.3" fill="none" stroke="#00b4eb" stroke-width="2.6" stroke-opacity="0.72"/><rect x="1961.2" y="146.9" width="8" height="8" rx="1.3" fill="none" stroke="#00b4eb" stroke-width="2.6" stroke-opacity="0.72"/><polyline points="1593.8,150.3 1655.7,150.3 1717.6,150.3 1779.5,150.5 1841.4,150.3 1903.3,150.3 1965.2,150.8" fill="none" stroke="#3f61fa" stroke-width="2.6" stroke-opacity="0.85" stroke-linejoin="round"/><rect x="1589.8" y="146.3" width="8" height="8" rx="1.3" fill="none" stroke="#3f61fa" stroke-width="2.6" stroke-opacity="0.72"/><rect x="1651.7" y="146.3" width="8" height="8" rx="1.3" fill="none" stroke="#3f61fa" stroke-width="2.6" stroke-opacity="0.72"/><rect x="1713.6" y="146.3" width="8" height="8" rx="1.3" fill="none" stroke="#3f61fa" stroke-width="2.6" stroke-opacity="0.72"/><rect x="1775.5" y="146.5" width="8" height="8" rx="1.3" fill="none" stroke="#3f61fa" stroke-width="2.6" stroke-opacity="0.72"/><rect x="1837.4" y="146.3" width="8" height="8" rx="1.3" fill="none" stroke="#3f61fa" stroke-width="2.6" stroke-opacity="0.72"/><rect x="1899.3" y="146.3" width="8" height="8" rx="1.3" fill="none" stroke="#3f61fa" stroke-width="2.6" stroke-opacity="0.72"/><rect x="1961.2" y="146.8" width="8" height="8" rx="1.3" fill="none" stroke="#3f61fa" stroke-width="2.6" stroke-opacity="0.72"/><polyline points="1593.8,150.3 1655.7,149.3 1717.6,147.3 1779.5,144.2 1841.4,141.2 1903.3,137.4 1965.2,133.8" fill="none" stroke="#7f00ff" stroke-width="2.6" stroke-opacity="0.85" stroke-linejoin="round"/><rect x="1589.8" y="146.3" width="8" height="8" rx="1.3" fill="none" stroke="#7f00ff" stroke-width="2.6" stroke-opacity="0.72"/><rect x="1651.7" y="145.3" width="8" height="8" rx="1.3" fill="none" stroke="#7f00ff" stroke-width="2.6" stroke-opacity="0.72"/><rect x="1713.6" y="143.3" width="8" height="8" rx="1.3" fill="none" stroke="#7f00ff" stroke-width="2.6" stroke-opacity="0.72"/><rect x="1775.5" y="140.2" width="8" height="8" rx="1.3" fill="none" stroke="#7f00ff" stroke-width="2.6" stroke-opacity="0.72"/><rect x="1837.4" y="137.2" width="8" height="8" rx="1.3" fill="none" stroke="#7f00ff" stroke-width="2.6" stroke-opacity="0.72"/><rect x="1899.3" y="133.4" width="8" height="8" rx="1.3" fill="none" stroke="#7f00ff" stroke-width="2.6" stroke-opacity="0.72"/><rect x="1961.2" y="129.8" width="8" height="8" rx="1.3" fill="none" stroke="#7f00ff" stroke-width="2.6" stroke-opacity="0.72"/></g><rect x="1581.7" y="55.6" width="395.9" height="389.4" fill="none" stroke="#808080" stroke-width="2"/><path d="M1581.7 445h4.6M1581.7 347.65h4.6M1581.7 250.3h4.6M1581.7 152.95h4.6M1593.8 445v-4.6M1717.6 445v-4.6M1841.4 445v-4.6M1965.2 445v-4.6" stroke="#555" stroke-width="1.6" fill="none"/><text class="tk" x="1552.23" y="455.2" text-anchor="end">10</text><text class="tk" x="1574.98" y="446.2" text-anchor="end" style="font-size:16px">−3</text><text class="tk" x="1552.23" y="357.85" text-anchor="end">10</text><text class="tk" x="1575.18" y="348.85" text-anchor="end" style="font-size:16px">−1</text><text class="tk" x="1565.23" y="260.5" text-anchor="end">10</text><text class="tk" x="1576.18" y="251.5" text-anchor="end" style="font-size:16px">1</text><text class="tk" x="1565.23" y="163.15" text-anchor="end">10</text><text class="tk" x="1575.98" y="154.15" text-anchor="end" style="font-size:16px">3</text><text class="tk" x="1565.23" y="65.8" text-anchor="end">10</text><text class="tk" x="1576.1" y="56.8" text-anchor="end" style="font-size:16px">5</text><text class="tk" x="1593.8" y="466.5" text-anchor="middle">0</text><text class="tk" x="1717.6" y="466.5" text-anchor="middle">1</text><text class="tk" x="1841.4" y="466.5" text-anchor="middle">2</text><text class="tk" x="1965.2" y="466.5" text-anchor="middle">3</text><rect x="1714.5" y="402.2" width="248.7" height="34.2" fill="#fff" fill-opacity="0.8" stroke="#cfcfcf" stroke-width="1.6" rx="1"/><g fill="#111"><text x="1719.75" y="429.3" textLength="17.84" lengthAdjust="spacingAndGlyphs" style="font-family:'Caladea','Liberation Serif',serif;font-size:29px;font-style:italic;">N</text><text x="1736.77" y="433.9" textLength="6.96" lengthAdjust="spacingAndGlyphs" style="font-family:'Caladea','Liberation Serif',serif;font-size:20px;font-style:italic;">i</text><text x="1753.62" y="429.3" textLength="22.16" lengthAdjust="spacingAndGlyphs" style="font-family:'Caladea','Liberation Serif',serif;font-size:31px;">=</text><text x="1784.84" y="429.3" textLength="11.34" lengthAdjust="spacingAndGlyphs" style="font-family:'Caladea','Liberation Serif',serif;font-size:29px;">1</text><text x="1805.72" y="431.8" textLength="20.35" lengthAdjust="spacingAndGlyphs" style="font-family:'Caladea','Liberation Serif',serif;font-size:37.5px;">×</text><text x="1834.18" y="429.3" textLength="10.62" lengthAdjust="spacingAndGlyphs" style="font-family:'Caladea','Liberation Serif',serif;font-size:29px;">1</text><text x="1850.05" y="429.3" textLength="13.01" lengthAdjust="spacingAndGlyphs" style="font-family:'Caladea','Liberation Serif',serif;font-size:29px;">0</text><text x="1866.52" y="418.1" textLength="6.6" lengthAdjust="spacingAndGlyphs" style="font-family:'Caladea','Liberation Serif',serif;font-size:19px;">1</text><text x="1877.13" y="418.1" textLength="9.78" lengthAdjust="spacingAndGlyphs" style="font-family:'Caladea','Liberation Serif',serif;font-size:19px;">7</text><text x="1896.01" y="429.3" textLength="34.75" lengthAdjust="spacingAndGlyphs" style="font-family:'Caladea','Liberation Serif',serif;font-size:29px;">cm</text><text x="1930.94" y="418.1" textLength="14.82" lengthAdjust="spacingAndGlyphs" style="font-family:'Caladea','Liberation Serif',serif;font-size:19px;">−</text><text x="1946.7" y="418.1" textLength="10.41" lengthAdjust="spacingAndGlyphs" style="font-family:'Caladea','Liberation Serif',serif;font-size:19px;">3</text></g><g><polyline points="164.6,858.8 226.53,852.6 288.47,846.5 350.4,840 412.33,832.2 474.27,824.6 536.2,819.1" fill="none" stroke="#ff0000" stroke-width="2.6" stroke-opacity="0.85" stroke-linejoin="round"/><rect x="160.6" y="854.8" width="8" height="8" rx="1.3" fill="none" stroke="#ff0000" stroke-width="2.6" stroke-opacity="0.72"/><rect x="222.53" y="848.6" width="8" height="8" rx="1.3" fill="none" stroke="#ff0000" stroke-width="2.6" stroke-opacity="0.72"/><rect x="284.47" y="842.5" width="8" height="8" rx="1.3" fill="none" stroke="#ff0000" stroke-width="2.6" stroke-opacity="0.72"/><rect x="346.4" y="836" width="8" height="8" rx="1.3" fill="none" stroke="#ff0000" stroke-width="2.6" stroke-opacity="0.72"/><rect x="408.33" y="828.2" width="8" height="8" rx="1.3" fill="none" stroke="#ff0000" stroke-width="2.6" stroke-opacity="0.72"/><rect x="470.27" y="820.6" width="8" height="8" rx="1.3" fill="none" stroke="#ff0000" stroke-width="2.6" stroke-opacity="0.72"/><rect x="532.2" y="815.1" width="8" height="8" rx="1.3" fill="none" stroke="#ff0000" stroke-width="2.6" stroke-opacity="0.72"/><polyline points="164.6,855.3 226.53,848.1 288.47,840.4 350.4,833.8 412.33,826.7 474.27,820.5 536.2,813.8" fill="none" stroke="#ffb260" stroke-width="2.6" stroke-opacity="0.85" stroke-linejoin="round"/><rect x="160.6" y="851.3" width="8" height="8" rx="1.3" fill="none" stroke="#ffb260" stroke-width="2.6" stroke-opacity="0.72"/><rect x="222.53" y="844.1" width="8" height="8" rx="1.3" fill="none" stroke="#ffb260" stroke-width="2.6" stroke-opacity="0.72"/><rect x="284.47" y="836.4" width="8" height="8" rx="1.3" fill="none" stroke="#ffb260" stroke-width="2.6" stroke-opacity="0.72"/><rect x="346.4" y="829.8" width="8" height="8" rx="1.3" fill="none" stroke="#ffb260" stroke-width="2.6" stroke-opacity="0.72"/><rect x="408.33" y="822.7" width="8" height="8" rx="1.3" fill="none" stroke="#ffb260" stroke-width="2.6" stroke-opacity="0.72"/><rect x="470.27" y="816.5" width="8" height="8" rx="1.3" fill="none" stroke="#ffb260" stroke-width="2.6" stroke-opacity="0.72"/><rect x="532.2" y="809.8" width="8" height="8" rx="1.3" fill="none" stroke="#ffb260" stroke-width="2.6" stroke-opacity="0.72"/><polyline points="164.6,834.2 226.53,828.1 288.47,822 350.4,815.8 412.33,809.7 474.27,804.2 536.2,799.7" fill="none" stroke="#80feb3" stroke-width="2.6" stroke-opacity="0.85" stroke-linejoin="round"/><rect x="160.6" y="830.2" width="8" height="8" rx="1.3" fill="none" stroke="#80feb3" stroke-width="2.6" stroke-opacity="0.72"/><rect x="222.53" y="824.1" width="8" height="8" rx="1.3" fill="none" stroke="#80feb3" stroke-width="2.6" stroke-opacity="0.72"/><rect x="284.47" y="818" width="8" height="8" rx="1.3" fill="none" stroke="#80feb3" stroke-width="2.6" stroke-opacity="0.72"/><rect x="346.4" y="811.8" width="8" height="8" rx="1.3" fill="none" stroke="#80feb3" stroke-width="2.6" stroke-opacity="0.72"/><rect x="408.33" y="805.7" width="8" height="8" rx="1.3" fill="none" stroke="#80feb3" stroke-width="2.6" stroke-opacity="0.72"/><rect x="470.27" y="800.2" width="8" height="8" rx="1.3" fill="none" stroke="#80feb3" stroke-width="2.6" stroke-opacity="0.72"/><rect x="532.2" y="795.7" width="8" height="8" rx="1.3" fill="none" stroke="#80feb3" stroke-width="2.6" stroke-opacity="0.72"/><polyline points="164.6,801.1 226.53,797.4 288.47,793.3 350.4,790.1 412.33,785.8 474.27,782.7 536.2,778.6" fill="none" stroke="#00b4eb" stroke-width="2.6" stroke-opacity="0.85" stroke-linejoin="round"/><rect x="160.6" y="797.1" width="8" height="8" rx="1.3" fill="none" stroke="#00b4eb" stroke-width="2.6" stroke-opacity="0.72"/><rect x="222.53" y="793.4" width="8" height="8" rx="1.3" fill="none" stroke="#00b4eb" stroke-width="2.6" stroke-opacity="0.72"/><rect x="284.47" y="789.3" width="8" height="8" rx="1.3" fill="none" stroke="#00b4eb" stroke-width="2.6" stroke-opacity="0.72"/><rect x="346.4" y="786.1" width="8" height="8" rx="1.3" fill="none" stroke="#00b4eb" stroke-width="2.6" stroke-opacity="0.72"/><rect x="408.33" y="781.8" width="8" height="8" rx="1.3" fill="none" stroke="#00b4eb" stroke-width="2.6" stroke-opacity="0.72"/><rect x="470.27" y="778.7" width="8" height="8" rx="1.3" fill="none" stroke="#00b4eb" stroke-width="2.6" stroke-opacity="0.72"/><rect x="532.2" y="774.6" width="8" height="8" rx="1.3" fill="none" stroke="#00b4eb" stroke-width="2.6" stroke-opacity="0.72"/><polyline points="164.6,762.2 226.53,760.2 288.47,758.2 350.4,755.9 412.33,753 474.27,750.4 536.2,748.5" fill="none" stroke="#3f61fa" stroke-width="2.6" stroke-opacity="0.85" stroke-linejoin="round"/><rect x="160.6" y="758.2" width="8" height="8" rx="1.3" fill="none" stroke="#3f61fa" stroke-width="2.6" stroke-opacity="0.72"/><rect x="222.53" y="756.2" width="8" height="8" rx="1.3" fill="none" stroke="#3f61fa" stroke-width="2.6" stroke-opacity="0.72"/><rect x="284.47" y="754.2" width="8" height="8" rx="1.3" fill="none" stroke="#3f61fa" stroke-width="2.6" stroke-opacity="0.72"/><rect x="346.4" y="751.9" width="8" height="8" rx="1.3" fill="none" stroke="#3f61fa" stroke-width="2.6" stroke-opacity="0.72"/><rect x="408.33" y="749" width="8" height="8" rx="1.3" fill="none" stroke="#3f61fa" stroke-width="2.6" stroke-opacity="0.72"/><rect x="470.27" y="746.4" width="8" height="8" rx="1.3" fill="none" stroke="#3f61fa" stroke-width="2.6" stroke-opacity="0.72"/><rect x="532.2" y="744.5" width="8" height="8" rx="1.3" fill="none" stroke="#3f61fa" stroke-width="2.6" stroke-opacity="0.72"/><polyline points="164.6,694.8 226.53,693.7 288.47,692.7 350.4,691.7 412.33,690.7 474.27,689.7 536.2,687.6" fill="none" stroke="#7f00ff" stroke-width="2.6" stroke-opacity="0.85" stroke-linejoin="round"/><rect x="160.6" y="690.8" width="8" height="8" rx="1.3" fill="none" stroke="#7f00ff" stroke-width="2.6" stroke-opacity="0.72"/><rect x="222.53" y="689.7" width="8" height="8" rx="1.3" fill="none" stroke="#7f00ff" stroke-width="2.6" stroke-opacity="0.72"/><rect x="284.47" y="688.7" width="8" height="8" rx="1.3" fill="none" stroke="#7f00ff" stroke-width="2.6" stroke-opacity="0.72"/><rect x="346.4" y="687.7" width="8" height="8" rx="1.3" fill="none" stroke="#7f00ff" stroke-width="2.6" stroke-opacity="0.72"/><rect x="408.33" y="686.7" width="8" height="8" rx="1.3" fill="none" stroke="#7f00ff" stroke-width="2.6" stroke-opacity="0.72"/><rect x="470.27" y="685.7" width="8" height="8" rx="1.3" fill="none" stroke="#7f00ff" stroke-width="2.6" stroke-opacity="0.72"/><rect x="532.2" y="683.6" width="8" height="8" rx="1.3" fill="none" stroke="#7f00ff" stroke-width="2.6" stroke-opacity="0.72"/></g><rect x="152.5" y="537.3" width="396.1" height="389.8" fill="none" stroke="#808080" stroke-width="2"/><path d="M152.5 927.1h4.6M152.5 829.65h4.6M152.5 732.2h4.6M152.5 634.75h4.6M164.6 927.1v-4.6M288.47 927.1v-4.6M412.33 927.1v-4.6M536.2 927.1v-4.6" stroke="#555" stroke-width="1.6" fill="none"/><text class="tk" x="123.03" y="937.3" text-anchor="end">10</text><text class="tk" x="145.78" y="928.3" text-anchor="end" style="font-size:16px">−3</text><text class="tk" x="123.03" y="839.85" text-anchor="end">10</text><text class="tk" x="145.98" y="830.85" text-anchor="end" style="font-size:16px">−1</text><text class="tk" x="136.03" y="742.4" text-anchor="end">10</text><text class="tk" x="146.98" y="733.4" text-anchor="end" style="font-size:16px">1</text><text class="tk" x="136.03" y="644.95" text-anchor="end">10</text><text class="tk" x="146.78" y="635.95" text-anchor="end" style="font-size:16px">3</text><text class="tk" x="136.03" y="547.5" text-anchor="end">10</text><text class="tk" x="146.9" y="538.5" text-anchor="end" style="font-size:16px">5</text><text class="tk" x="164.6" y="948.6" text-anchor="middle">0</text><text class="tk" x="288.47" y="948.6" text-anchor="middle">1</text><text class="tk" x="412.33" y="948.6" text-anchor="middle">2</text><text class="tk" x="536.2" y="948.6" text-anchor="middle">3</text><rect x="285.5" y="884.3" width="248.7" height="34.2" fill="#fff" fill-opacity="0.8" stroke="#cfcfcf" stroke-width="1.6" rx="1"/><g fill="#111"><text x="290.75" y="911.4" textLength="17.84" lengthAdjust="spacingAndGlyphs" style="font-family:'Caladea','Liberation Serif',serif;font-size:29px;font-style:italic;">N</text><text x="307.77" y="916" textLength="6.96" lengthAdjust="spacingAndGlyphs" style="font-family:'Caladea','Liberation Serif',serif;font-size:20px;font-style:italic;">i</text><text x="324.62" y="911.4" textLength="22.16" lengthAdjust="spacingAndGlyphs" style="font-family:'Caladea','Liberation Serif',serif;font-size:31px;">=</text><text x="356.07" y="911.4" textLength="14.02" lengthAdjust="spacingAndGlyphs" style="font-family:'Caladea','Liberation Serif',serif;font-size:29px;">5</text><text x="376.72" y="913.9" textLength="20.35" lengthAdjust="spacingAndGlyphs" style="font-family:'Caladea','Liberation Serif',serif;font-size:37.5px;">×</text><text x="405.18" y="911.4" textLength="10.62" lengthAdjust="spacingAndGlyphs" style="font-family:'Caladea','Liberation Serif',serif;font-size:29px;">1</text><text x="421.05" y="911.4" textLength="13.01" lengthAdjust="spacingAndGlyphs" style="font-family:'Caladea','Liberation Serif',serif;font-size:29px;">0</text><text x="437.52" y="900.2" textLength="6.6" lengthAdjust="spacingAndGlyphs" style="font-family:'Caladea','Liberation Serif',serif;font-size:19px;">1</text><text x="448.21" y="900.2" textLength="10.08" lengthAdjust="spacingAndGlyphs" style="font-family:'Caladea','Liberation Serif',serif;font-size:19px;">5</text><text x="467.01" y="911.4" textLength="34.75" lengthAdjust="spacingAndGlyphs" style="font-family:'Caladea','Liberation Serif',serif;font-size:29px;">cm</text><text x="501.94" y="900.2" textLength="14.82" lengthAdjust="spacingAndGlyphs" style="font-family:'Caladea','Liberation Serif',serif;font-size:19px;">−</text><text x="517.7" y="900.2" textLength="10.41" lengthAdjust="spacingAndGlyphs" style="font-family:'Caladea','Liberation Serif',serif;font-size:19px;">3</text></g><g><polyline points="641,805.6 702.95,805.2 764.9,804.2 826.85,803.1 888.8,802.1 950.75,801.1 1012.7,800.1" fill="none" stroke="#ff0000" stroke-width="2.6" stroke-opacity="0.85" stroke-linejoin="round"/><rect x="637" y="801.6" width="8" height="8" rx="1.3" fill="none" stroke="#ff0000" stroke-width="2.6" stroke-opacity="0.72"/><rect x="698.95" y="801.2" width="8" height="8" rx="1.3" fill="none" stroke="#ff0000" stroke-width="2.6" stroke-opacity="0.72"/><rect x="760.9" y="800.2" width="8" height="8" rx="1.3" fill="none" stroke="#ff0000" stroke-width="2.6" stroke-opacity="0.72"/><rect x="822.85" y="799.1" width="8" height="8" rx="1.3" fill="none" stroke="#ff0000" stroke-width="2.6" stroke-opacity="0.72"/><rect x="884.8" y="798.1" width="8" height="8" rx="1.3" fill="none" stroke="#ff0000" stroke-width="2.6" stroke-opacity="0.72"/><rect x="946.75" y="797.1" width="8" height="8" rx="1.3" fill="none" stroke="#ff0000" stroke-width="2.6" stroke-opacity="0.72"/><rect x="1008.7" y="796.1" width="8" height="8" rx="1.3" fill="none" stroke="#ff0000" stroke-width="2.6" stroke-opacity="0.72"/><polyline points="641,804.8 702.95,803.4 764.9,801.1 826.85,799.5 888.8,795.4 950.75,793.3 1012.7,790.5" fill="none" stroke="#ffb260" stroke-width="2.6" stroke-opacity="0.85" stroke-linejoin="round"/><rect x="637" y="800.8" width="8" height="8" rx="1.3" fill="none" stroke="#ffb260" stroke-width="2.6" stroke-opacity="0.72"/><rect x="698.95" y="799.4" width="8" height="8" rx="1.3" fill="none" stroke="#ffb260" stroke-width="2.6" stroke-opacity="0.72"/><rect x="760.9" y="797.1" width="8" height="8" rx="1.3" fill="none" stroke="#ffb260" stroke-width="2.6" stroke-opacity="0.72"/><rect x="822.85" y="795.5" width="8" height="8" rx="1.3" fill="none" stroke="#ffb260" stroke-width="2.6" stroke-opacity="0.72"/><rect x="884.8" y="791.4" width="8" height="8" rx="1.3" fill="none" stroke="#ffb260" stroke-width="2.6" stroke-opacity="0.72"/><rect x="946.75" y="789.3" width="8" height="8" rx="1.3" fill="none" stroke="#ffb260" stroke-width="2.6" stroke-opacity="0.72"/><rect x="1008.7" y="786.5" width="8" height="8" rx="1.3" fill="none" stroke="#ffb260" stroke-width="2.6" stroke-opacity="0.72"/><polyline points="641,796.6 702.95,794 764.9,790.5 826.85,787.2 888.8,783.1 950.75,779.6 1012.7,776.6" fill="none" stroke="#80feb3" stroke-width="2.6" stroke-opacity="0.85" stroke-linejoin="round"/><rect x="637" y="792.6" width="8" height="8" rx="1.3" fill="none" stroke="#80feb3" stroke-width="2.6" stroke-opacity="0.72"/><rect x="698.95" y="790" width="8" height="8" rx="1.3" fill="none" stroke="#80feb3" stroke-width="2.6" stroke-opacity="0.72"/><rect x="760.9" y="786.5" width="8" height="8" rx="1.3" fill="none" stroke="#80feb3" stroke-width="2.6" stroke-opacity="0.72"/><rect x="822.85" y="783.2" width="8" height="8" rx="1.3" fill="none" stroke="#80feb3" stroke-width="2.6" stroke-opacity="0.72"/><rect x="884.8" y="779.1" width="8" height="8" rx="1.3" fill="none" stroke="#80feb3" stroke-width="2.6" stroke-opacity="0.72"/><rect x="946.75" y="775.6" width="8" height="8" rx="1.3" fill="none" stroke="#80feb3" stroke-width="2.6" stroke-opacity="0.72"/><rect x="1008.7" y="772.6" width="8" height="8" rx="1.3" fill="none" stroke="#80feb3" stroke-width="2.6" stroke-opacity="0.72"/><polyline points="641,777 702.95,773.9 764.9,770.8 826.85,767.4 888.8,764.3 950.75,761.2 1012.7,758.2" fill="none" stroke="#00b4eb" stroke-width="2.6" stroke-opacity="0.85" stroke-linejoin="round"/><rect x="637" y="773" width="8" height="8" rx="1.3" fill="none" stroke="#00b4eb" stroke-width="2.6" stroke-opacity="0.72"/><rect x="698.95" y="769.9" width="8" height="8" rx="1.3" fill="none" stroke="#00b4eb" stroke-width="2.6" stroke-opacity="0.72"/><rect x="760.9" y="766.8" width="8" height="8" rx="1.3" fill="none" stroke="#00b4eb" stroke-width="2.6" stroke-opacity="0.72"/><rect x="822.85" y="763.4" width="8" height="8" rx="1.3" fill="none" stroke="#00b4eb" stroke-width="2.6" stroke-opacity="0.72"/><rect x="884.8" y="760.3" width="8" height="8" rx="1.3" fill="none" stroke="#00b4eb" stroke-width="2.6" stroke-opacity="0.72"/><rect x="946.75" y="757.2" width="8" height="8" rx="1.3" fill="none" stroke="#00b4eb" stroke-width="2.6" stroke-opacity="0.72"/><rect x="1008.7" y="754.2" width="8" height="8" rx="1.3" fill="none" stroke="#00b4eb" stroke-width="2.6" stroke-opacity="0.72"/><polyline points="641,751.6 702.95,749.4 764.9,746.5 826.85,744.3 888.8,742.2 950.75,739.8 1012.7,738.1" fill="none" stroke="#3f61fa" stroke-width="2.6" stroke-opacity="0.85" stroke-linejoin="round"/><rect x="637" y="747.6" width="8" height="8" rx="1.3" fill="none" stroke="#3f61fa" stroke-width="2.6" stroke-opacity="0.72"/><rect x="698.95" y="745.4" width="8" height="8" rx="1.3" fill="none" stroke="#3f61fa" stroke-width="2.6" stroke-opacity="0.72"/><rect x="760.9" y="742.5" width="8" height="8" rx="1.3" fill="none" stroke="#3f61fa" stroke-width="2.6" stroke-opacity="0.72"/><rect x="822.85" y="740.3" width="8" height="8" rx="1.3" fill="none" stroke="#3f61fa" stroke-width="2.6" stroke-opacity="0.72"/><rect x="884.8" y="738.2" width="8" height="8" rx="1.3" fill="none" stroke="#3f61fa" stroke-width="2.6" stroke-opacity="0.72"/><rect x="946.75" y="735.8" width="8" height="8" rx="1.3" fill="none" stroke="#3f61fa" stroke-width="2.6" stroke-opacity="0.72"/><rect x="1008.7" y="734.1" width="8" height="8" rx="1.3" fill="none" stroke="#3f61fa" stroke-width="2.6" stroke-opacity="0.72"/><polyline points="641,690.7 702.95,689.7 764.9,687.8 826.85,686.6 888.8,685.6 950.75,684.5 1012.7,683.5" fill="none" stroke="#7f00ff" stroke-width="2.6" stroke-opacity="0.85" stroke-linejoin="round"/><rect x="637" y="686.7" width="8" height="8" rx="1.3" fill="none" stroke="#7f00ff" stroke-width="2.6" stroke-opacity="0.72"/><rect x="698.95" y="685.7" width="8" height="8" rx="1.3" fill="none" stroke="#7f00ff" stroke-width="2.6" stroke-opacity="0.72"/><rect x="760.9" y="683.8" width="8" height="8" rx="1.3" fill="none" stroke="#7f00ff" stroke-width="2.6" stroke-opacity="0.72"/><rect x="822.85" y="682.6" width="8" height="8" rx="1.3" fill="none" stroke="#7f00ff" stroke-width="2.6" stroke-opacity="0.72"/><rect x="884.8" y="681.6" width="8" height="8" rx="1.3" fill="none" stroke="#7f00ff" stroke-width="2.6" stroke-opacity="0.72"/><rect x="946.75" y="680.5" width="8" height="8" rx="1.3" fill="none" stroke="#7f00ff" stroke-width="2.6" stroke-opacity="0.72"/><rect x="1008.7" y="679.5" width="8" height="8" rx="1.3" fill="none" stroke="#7f00ff" stroke-width="2.6" stroke-opacity="0.72"/></g><rect x="628.9" y="537.3" width="396.2" height="389.8" fill="none" stroke="#808080" stroke-width="2"/><path d="M628.9 927.1h4.6M628.9 829.65h4.6M628.9 732.2h4.6M628.9 634.75h4.6M641 927.1v-4.6M764.9 927.1v-4.6M888.8 927.1v-4.6M1012.7 927.1v-4.6" stroke="#555" stroke-width="1.6" fill="none"/><text class="tk" x="599.43" y="937.3" text-anchor="end">10</text><text class="tk" x="622.18" y="928.3" text-anchor="end" style="font-size:16px">−3</text><text class="tk" x="599.43" y="839.85" text-anchor="end">10</text><text class="tk" x="622.38" y="830.85" text-anchor="end" style="font-size:16px">−1</text><text class="tk" x="612.43" y="742.4" text-anchor="end">10</text><text class="tk" x="623.38" y="733.4" text-anchor="end" style="font-size:16px">1</text><text class="tk" x="612.43" y="644.95" text-anchor="end">10</text><text class="tk" x="623.18" y="635.95" text-anchor="end" style="font-size:16px">3</text><text class="tk" x="612.43" y="547.5" text-anchor="end">10</text><text class="tk" x="623.3" y="538.5" text-anchor="end" style="font-size:16px">5</text><text class="tk" x="641" y="948.6" text-anchor="middle">0</text><text class="tk" x="764.9" y="948.6" text-anchor="middle">1</text><text class="tk" x="888.8" y="948.6" text-anchor="middle">2</text><text class="tk" x="1012.7" y="948.6" text-anchor="middle">3</text><rect x="762" y="884.3" width="248.7" height="34.2" fill="#fff" fill-opacity="0.8" stroke="#cfcfcf" stroke-width="1.6" rx="1"/><g fill="#111"><text x="767.25" y="911.4" textLength="17.84" lengthAdjust="spacingAndGlyphs" style="font-family:'Caladea','Liberation Serif',serif;font-size:29px;font-style:italic;">N</text><text x="784.27" y="916" textLength="6.96" lengthAdjust="spacingAndGlyphs" style="font-family:'Caladea','Liberation Serif',serif;font-size:20px;font-style:italic;">i</text><text x="801.12" y="911.4" textLength="22.16" lengthAdjust="spacingAndGlyphs" style="font-family:'Caladea','Liberation Serif',serif;font-size:31px;">=</text><text x="832.34" y="911.4" textLength="11.34" lengthAdjust="spacingAndGlyphs" style="font-family:'Caladea','Liberation Serif',serif;font-size:29px;">1</text><text x="853.22" y="913.9" textLength="20.35" lengthAdjust="spacingAndGlyphs" style="font-family:'Caladea','Liberation Serif',serif;font-size:37.5px;">×</text><text x="881.68" y="911.4" textLength="10.62" lengthAdjust="spacingAndGlyphs" style="font-family:'Caladea','Liberation Serif',serif;font-size:29px;">1</text><text x="897.55" y="911.4" textLength="13.01" lengthAdjust="spacingAndGlyphs" style="font-family:'Caladea','Liberation Serif',serif;font-size:29px;">0</text><text x="914.02" y="900.2" textLength="6.6" lengthAdjust="spacingAndGlyphs" style="font-family:'Caladea','Liberation Serif',serif;font-size:19px;">1</text><text x="924.76" y="900.2" textLength="9.71" lengthAdjust="spacingAndGlyphs" style="font-family:'Caladea','Liberation Serif',serif;font-size:19px;">6</text><text x="943.51" y="911.4" textLength="34.75" lengthAdjust="spacingAndGlyphs" style="font-family:'Caladea','Liberation Serif',serif;font-size:29px;">cm</text><text x="978.44" y="900.2" textLength="14.82" lengthAdjust="spacingAndGlyphs" style="font-family:'Caladea','Liberation Serif',serif;font-size:19px;">−</text><text x="994.2" y="900.2" textLength="10.41" lengthAdjust="spacingAndGlyphs" style="font-family:'Caladea','Liberation Serif',serif;font-size:19px;">3</text></g><g><polyline points="1116.7,652.3 1178.6,651.8 1240.5,651.5 1302.4,650.8 1364.3,650.3 1426.2,649.8 1488.1,649.3" fill="none" stroke="#ff0000" stroke-width="2.6" stroke-opacity="0.85" stroke-linejoin="round"/><rect x="1112.7" y="648.3" width="8" height="8" rx="1.3" fill="none" stroke="#ff0000" stroke-width="2.6" stroke-opacity="0.72"/><rect x="1174.6" y="647.8" width="8" height="8" rx="1.3" fill="none" stroke="#ff0000" stroke-width="2.6" stroke-opacity="0.72"/><rect x="1236.5" y="647.5" width="8" height="8" rx="1.3" fill="none" stroke="#ff0000" stroke-width="2.6" stroke-opacity="0.72"/><rect x="1298.4" y="646.8" width="8" height="8" rx="1.3" fill="none" stroke="#ff0000" stroke-width="2.6" stroke-opacity="0.72"/><rect x="1360.3" y="646.3" width="8" height="8" rx="1.3" fill="none" stroke="#ff0000" stroke-width="2.6" stroke-opacity="0.72"/><rect x="1422.2" y="645.8" width="8" height="8" rx="1.3" fill="none" stroke="#ff0000" stroke-width="2.6" stroke-opacity="0.72"/><rect x="1484.1" y="645.3" width="8" height="8" rx="1.3" fill="none" stroke="#ff0000" stroke-width="2.6" stroke-opacity="0.72"/><polyline points="1116.7,652.3 1178.6,651.8 1240.5,651.5 1302.4,650.8 1364.3,650.3 1426.2,649.8 1488.1,649.3" fill="none" stroke="#ffb260" stroke-width="2.6" stroke-opacity="0.85" stroke-linejoin="round"/><rect x="1112.7" y="648.3" width="8" height="8" rx="1.3" fill="none" stroke="#ffb260" stroke-width="2.6" stroke-opacity="0.72"/><rect x="1174.6" y="647.8" width="8" height="8" rx="1.3" fill="none" stroke="#ffb260" stroke-width="2.6" stroke-opacity="0.72"/><rect x="1236.5" y="647.5" width="8" height="8" rx="1.3" fill="none" stroke="#ffb260" stroke-width="2.6" stroke-opacity="0.72"/><rect x="1298.4" y="646.8" width="8" height="8" rx="1.3" fill="none" stroke="#ffb260" stroke-width="2.6" stroke-opacity="0.72"/><rect x="1360.3" y="646.3" width="8" height="8" rx="1.3" fill="none" stroke="#ffb260" stroke-width="2.6" stroke-opacity="0.72"/><rect x="1422.2" y="645.8" width="8" height="8" rx="1.3" fill="none" stroke="#ffb260" stroke-width="2.6" stroke-opacity="0.72"/><rect x="1484.1" y="645.3" width="8" height="8" rx="1.3" fill="none" stroke="#ffb260" stroke-width="2.6" stroke-opacity="0.72"/><polyline points="1116.7,652.3 1178.6,651.8 1240.5,651.5 1302.4,650.8 1364.3,650.3 1426.2,649.8 1488.1,649.3" fill="none" stroke="#80feb3" stroke-width="2.6" stroke-opacity="0.85" stroke-linejoin="round"/><rect x="1112.7" y="648.3" width="8" height="8" rx="1.3" fill="none" stroke="#80feb3" stroke-width="2.6" stroke-opacity="0.72"/><rect x="1174.6" y="647.8" width="8" height="8" rx="1.3" fill="none" stroke="#80feb3" stroke-width="2.6" stroke-opacity="0.72"/><rect x="1236.5" y="647.5" width="8" height="8" rx="1.3" fill="none" stroke="#80feb3" stroke-width="2.6" stroke-opacity="0.72"/><rect x="1298.4" y="646.8" width="8" height="8" rx="1.3" fill="none" stroke="#80feb3" stroke-width="2.6" stroke-opacity="0.72"/><rect x="1360.3" y="646.3" width="8" height="8" rx="1.3" fill="none" stroke="#80feb3" stroke-width="2.6" stroke-opacity="0.72"/><rect x="1422.2" y="645.8" width="8" height="8" rx="1.3" fill="none" stroke="#80feb3" stroke-width="2.6" stroke-opacity="0.72"/><rect x="1484.1" y="645.3" width="8" height="8" rx="1.3" fill="none" stroke="#80feb3" stroke-width="2.6" stroke-opacity="0.72"/><polyline points="1116.7,652.3 1178.6,651.8 1240.5,651.5 1302.4,650.8 1364.3,650.3 1426.2,649.8 1488.1,649.3" fill="none" stroke="#00b4eb" stroke-width="2.6" stroke-opacity="0.85" stroke-linejoin="round"/><rect x="1112.7" y="648.3" width="8" height="8" rx="1.3" fill="none" stroke="#00b4eb" stroke-width="2.6" stroke-opacity="0.72"/><rect x="1174.6" y="647.8" width="8" height="8" rx="1.3" fill="none" stroke="#00b4eb" stroke-width="2.6" stroke-opacity="0.72"/><rect x="1236.5" y="647.5" width="8" height="8" rx="1.3" fill="none" stroke="#00b4eb" stroke-width="2.6" stroke-opacity="0.72"/><rect x="1298.4" y="646.8" width="8" height="8" rx="1.3" fill="none" stroke="#00b4eb" stroke-width="2.6" stroke-opacity="0.72"/><rect x="1360.3" y="646.3" width="8" height="8" rx="1.3" fill="none" stroke="#00b4eb" stroke-width="2.6" stroke-opacity="0.72"/><rect x="1422.2" y="645.8" width="8" height="8" rx="1.3" fill="none" stroke="#00b4eb" stroke-width="2.6" stroke-opacity="0.72"/><rect x="1484.1" y="645.3" width="8" height="8" rx="1.3" fill="none" stroke="#00b4eb" stroke-width="2.6" stroke-opacity="0.72"/><polyline points="1116.7,651.3 1178.6,650.8 1240.5,650.5 1302.4,649.8 1364.3,649.3 1426.2,648.8 1488.1,648.3" fill="none" stroke="#3f61fa" stroke-width="2.6" stroke-opacity="0.85" stroke-linejoin="round"/><rect x="1112.7" y="647.3" width="8" height="8" rx="1.3" fill="none" stroke="#3f61fa" stroke-width="2.6" stroke-opacity="0.72"/><rect x="1174.6" y="646.8" width="8" height="8" rx="1.3" fill="none" stroke="#3f61fa" stroke-width="2.6" stroke-opacity="0.72"/><rect x="1236.5" y="646.5" width="8" height="8" rx="1.3" fill="none" stroke="#3f61fa" stroke-width="2.6" stroke-opacity="0.72"/><rect x="1298.4" y="645.8" width="8" height="8" rx="1.3" fill="none" stroke="#3f61fa" stroke-width="2.6" stroke-opacity="0.72"/><rect x="1360.3" y="645.3" width="8" height="8" rx="1.3" fill="none" stroke="#3f61fa" stroke-width="2.6" stroke-opacity="0.72"/><rect x="1422.2" y="644.8" width="8" height="8" rx="1.3" fill="none" stroke="#3f61fa" stroke-width="2.6" stroke-opacity="0.72"/><rect x="1484.1" y="644.3" width="8" height="8" rx="1.3" fill="none" stroke="#3f61fa" stroke-width="2.6" stroke-opacity="0.72"/><polyline points="1116.7,639.6 1178.6,638.9 1240.5,638.1 1302.4,637.4 1364.3,636.6 1426.2,635.8 1488.1,635.1" fill="none" stroke="#7f00ff" stroke-width="2.6" stroke-opacity="0.85" stroke-linejoin="round"/><rect x="1112.7" y="635.6" width="8" height="8" rx="1.3" fill="none" stroke="#7f00ff" stroke-width="2.6" stroke-opacity="0.72"/><rect x="1174.6" y="634.9" width="8" height="8" rx="1.3" fill="none" stroke="#7f00ff" stroke-width="2.6" stroke-opacity="0.72"/><rect x="1236.5" y="634.1" width="8" height="8" rx="1.3" fill="none" stroke="#7f00ff" stroke-width="2.6" stroke-opacity="0.72"/><rect x="1298.4" y="633.4" width="8" height="8" rx="1.3" fill="none" stroke="#7f00ff" stroke-width="2.6" stroke-opacity="0.72"/><rect x="1360.3" y="632.6" width="8" height="8" rx="1.3" fill="none" stroke="#7f00ff" stroke-width="2.6" stroke-opacity="0.72"/><rect x="1422.2" y="631.8" width="8" height="8" rx="1.3" fill="none" stroke="#7f00ff" stroke-width="2.6" stroke-opacity="0.72"/><rect x="1484.1" y="631.1" width="8" height="8" rx="1.3" fill="none" stroke="#7f00ff" stroke-width="2.6" stroke-opacity="0.72"/></g><rect x="1104.6" y="537.3" width="395.9" height="389.8" fill="none" stroke="#808080" stroke-width="2"/><path d="M1104.6 927.1h4.6M1104.6 829.65h4.6M1104.6 732.2h4.6M1104.6 634.75h4.6M1116.7 927.1v-4.6M1240.5 927.1v-4.6M1364.3 927.1v-4.6M1488.1 927.1v-4.6" stroke="#555" stroke-width="1.6" fill="none"/><text class="tk" x="1075.13" y="937.3" text-anchor="end">10</text><text class="tk" x="1097.88" y="928.3" text-anchor="end" style="font-size:16px">−3</text><text class="tk" x="1075.13" y="839.85" text-anchor="end">10</text><text class="tk" x="1098.08" y="830.85" text-anchor="end" style="font-size:16px">−1</text><text class="tk" x="1088.13" y="742.4" text-anchor="end">10</text><text class="tk" x="1099.08" y="733.4" text-anchor="end" style="font-size:16px">1</text><text class="tk" x="1088.13" y="644.95" text-anchor="end">10</text><text class="tk" x="1098.88" y="635.95" text-anchor="end" style="font-size:16px">3</text><text class="tk" x="1088.13" y="547.5" text-anchor="end">10</text><text class="tk" x="1099" y="538.5" text-anchor="end" style="font-size:16px">5</text><text class="tk" x="1116.7" y="948.6" text-anchor="middle">0</text><text class="tk" x="1240.5" y="948.6" text-anchor="middle">1</text><text class="tk" x="1364.3" y="948.6" text-anchor="middle">2</text><text class="tk" x="1488.1" y="948.6" text-anchor="middle">3</text><rect x="1237.4" y="884.3" width="248.7" height="34.2" fill="#fff" fill-opacity="0.8" stroke="#cfcfcf" stroke-width="1.6" rx="1"/><g fill="#111"><text x="1242.65" y="911.4" textLength="17.84" lengthAdjust="spacingAndGlyphs" style="font-family:'Caladea','Liberation Serif',serif;font-size:29px;font-style:italic;">N</text><text x="1259.67" y="916" textLength="6.96" lengthAdjust="spacingAndGlyphs" style="font-family:'Caladea','Liberation Serif',serif;font-size:20px;font-style:italic;">i</text><text x="1276.52" y="911.4" textLength="22.16" lengthAdjust="spacingAndGlyphs" style="font-family:'Caladea','Liberation Serif',serif;font-size:31px;">=</text><text x="1307.97" y="911.4" textLength="14.02" lengthAdjust="spacingAndGlyphs" style="font-family:'Caladea','Liberation Serif',serif;font-size:29px;">5</text><text x="1328.62" y="913.9" textLength="20.35" lengthAdjust="spacingAndGlyphs" style="font-family:'Caladea','Liberation Serif',serif;font-size:37.5px;">×</text><text x="1357.08" y="911.4" textLength="10.62" lengthAdjust="spacingAndGlyphs" style="font-family:'Caladea','Liberation Serif',serif;font-size:29px;">1</text><text x="1372.95" y="911.4" textLength="13.01" lengthAdjust="spacingAndGlyphs" style="font-family:'Caladea','Liberation Serif',serif;font-size:29px;">0</text><text x="1389.42" y="900.2" textLength="6.6" lengthAdjust="spacingAndGlyphs" style="font-family:'Caladea','Liberation Serif',serif;font-size:19px;">1</text><text x="1400.16" y="900.2" textLength="9.71" lengthAdjust="spacingAndGlyphs" style="font-family:'Caladea','Liberation Serif',serif;font-size:19px;">6</text><text x="1418.91" y="911.4" textLength="34.75" lengthAdjust="spacingAndGlyphs" style="font-family:'Caladea','Liberation Serif',serif;font-size:29px;">cm</text><text x="1453.84" y="900.2" textLength="14.82" lengthAdjust="spacingAndGlyphs" style="font-family:'Caladea','Liberation Serif',serif;font-size:19px;">−</text><text x="1469.6" y="900.2" textLength="10.41" lengthAdjust="spacingAndGlyphs" style="font-family:'Caladea','Liberation Serif',serif;font-size:19px;">3</text></g><g><polyline points="1592.5,584.6 1654.4,584.3 1716.3,583.8 1778.2,583.3 1840.1,582.7 1902,582.5 1963.9,582.8" fill="none" stroke="#ff0000" stroke-width="2.6" stroke-opacity="0.85" stroke-linejoin="round"/><rect x="1588.5" y="580.6" width="8" height="8" rx="1.3" fill="none" stroke="#ff0000" stroke-width="2.6" stroke-opacity="0.72"/><rect x="1650.4" y="580.3" width="8" height="8" rx="1.3" fill="none" stroke="#ff0000" stroke-width="2.6" stroke-opacity="0.72"/><rect x="1712.3" y="579.8" width="8" height="8" rx="1.3" fill="none" stroke="#ff0000" stroke-width="2.6" stroke-opacity="0.72"/><rect x="1774.2" y="579.3" width="8" height="8" rx="1.3" fill="none" stroke="#ff0000" stroke-width="2.6" stroke-opacity="0.72"/><rect x="1836.1" y="578.7" width="8" height="8" rx="1.3" fill="none" stroke="#ff0000" stroke-width="2.6" stroke-opacity="0.72"/><rect x="1898" y="578.5" width="8" height="8" rx="1.3" fill="none" stroke="#ff0000" stroke-width="2.6" stroke-opacity="0.72"/><rect x="1959.9" y="578.8" width="8" height="8" rx="1.3" fill="none" stroke="#ff0000" stroke-width="2.6" stroke-opacity="0.72"/><polyline points="1592.5,584.6 1654.4,584.3 1716.3,583.8 1778.2,583.3 1840.1,582.7 1902,582.5 1963.9,582.8" fill="none" stroke="#ffb260" stroke-width="2.6" stroke-opacity="0.85" stroke-linejoin="round"/><rect x="1588.5" y="580.6" width="8" height="8" rx="1.3" fill="none" stroke="#ffb260" stroke-width="2.6" stroke-opacity="0.72"/><rect x="1650.4" y="580.3" width="8" height="8" rx="1.3" fill="none" stroke="#ffb260" stroke-width="2.6" stroke-opacity="0.72"/><rect x="1712.3" y="579.8" width="8" height="8" rx="1.3" fill="none" stroke="#ffb260" stroke-width="2.6" stroke-opacity="0.72"/><rect x="1774.2" y="579.3" width="8" height="8" rx="1.3" fill="none" stroke="#ffb260" stroke-width="2.6" stroke-opacity="0.72"/><rect x="1836.1" y="578.7" width="8" height="8" rx="1.3" fill="none" stroke="#ffb260" stroke-width="2.6" stroke-opacity="0.72"/><rect x="1898" y="578.5" width="8" height="8" rx="1.3" fill="none" stroke="#ffb260" stroke-width="2.6" stroke-opacity="0.72"/><rect x="1959.9" y="578.8" width="8" height="8" rx="1.3" fill="none" stroke="#ffb260" stroke-width="2.6" stroke-opacity="0.72"/><polyline points="1592.5,584.6 1654.4,584.3 1716.3,583.8 1778.2,583.3 1840.1,582.7 1902,582.5 1963.9,582.8" fill="none" stroke="#80feb3" stroke-width="2.6" stroke-opacity="0.85" stroke-linejoin="round"/><rect x="1588.5" y="580.6" width="8" height="8" rx="1.3" fill="none" stroke="#80feb3" stroke-width="2.6" stroke-opacity="0.72"/><rect x="1650.4" y="580.3" width="8" height="8" rx="1.3" fill="none" stroke="#80feb3" stroke-width="2.6" stroke-opacity="0.72"/><rect x="1712.3" y="579.8" width="8" height="8" rx="1.3" fill="none" stroke="#80feb3" stroke-width="2.6" stroke-opacity="0.72"/><rect x="1774.2" y="579.3" width="8" height="8" rx="1.3" fill="none" stroke="#80feb3" stroke-width="2.6" stroke-opacity="0.72"/><rect x="1836.1" y="578.7" width="8" height="8" rx="1.3" fill="none" stroke="#80feb3" stroke-width="2.6" stroke-opacity="0.72"/><rect x="1898" y="578.5" width="8" height="8" rx="1.3" fill="none" stroke="#80feb3" stroke-width="2.6" stroke-opacity="0.72"/><rect x="1959.9" y="578.8" width="8" height="8" rx="1.3" fill="none" stroke="#80feb3" stroke-width="2.6" stroke-opacity="0.72"/><polyline points="1592.5,584.6 1654.4,584.3 1716.3,583.8 1778.2,583.3 1840.1,582.7 1902,582.5 1963.9,582.8" fill="none" stroke="#00b4eb" stroke-width="2.6" stroke-opacity="0.85" stroke-linejoin="round"/><rect x="1588.5" y="580.6" width="8" height="8" rx="1.3" fill="none" stroke="#00b4eb" stroke-width="2.6" stroke-opacity="0.72"/><rect x="1650.4" y="580.3" width="8" height="8" rx="1.3" fill="none" stroke="#00b4eb" stroke-width="2.6" stroke-opacity="0.72"/><rect x="1712.3" y="579.8" width="8" height="8" rx="1.3" fill="none" stroke="#00b4eb" stroke-width="2.6" stroke-opacity="0.72"/><rect x="1774.2" y="579.3" width="8" height="8" rx="1.3" fill="none" stroke="#00b4eb" stroke-width="2.6" stroke-opacity="0.72"/><rect x="1836.1" y="578.7" width="8" height="8" rx="1.3" fill="none" stroke="#00b4eb" stroke-width="2.6" stroke-opacity="0.72"/><rect x="1898" y="578.5" width="8" height="8" rx="1.3" fill="none" stroke="#00b4eb" stroke-width="2.6" stroke-opacity="0.72"/><rect x="1959.9" y="578.8" width="8" height="8" rx="1.3" fill="none" stroke="#00b4eb" stroke-width="2.6" stroke-opacity="0.72"/><polyline points="1592.5,584.6 1654.4,584.3 1716.3,583.8 1778.2,583.3 1840.1,582.7 1902,582.5 1963.9,582.8" fill="none" stroke="#3f61fa" stroke-width="2.6" stroke-opacity="0.85" stroke-linejoin="round"/><rect x="1588.5" y="580.6" width="8" height="8" rx="1.3" fill="none" stroke="#3f61fa" stroke-width="2.6" stroke-opacity="0.72"/><rect x="1650.4" y="580.3" width="8" height="8" rx="1.3" fill="none" stroke="#3f61fa" stroke-width="2.6" stroke-opacity="0.72"/><rect x="1712.3" y="579.8" width="8" height="8" rx="1.3" fill="none" stroke="#3f61fa" stroke-width="2.6" stroke-opacity="0.72"/><rect x="1774.2" y="579.3" width="8" height="8" rx="1.3" fill="none" stroke="#3f61fa" stroke-width="2.6" stroke-opacity="0.72"/><rect x="1836.1" y="578.7" width="8" height="8" rx="1.3" fill="none" stroke="#3f61fa" stroke-width="2.6" stroke-opacity="0.72"/><rect x="1898" y="578.5" width="8" height="8" rx="1.3" fill="none" stroke="#3f61fa" stroke-width="2.6" stroke-opacity="0.72"/><rect x="1959.9" y="578.8" width="8" height="8" rx="1.3" fill="none" stroke="#3f61fa" stroke-width="2.6" stroke-opacity="0.72"/><polyline points="1592.5,584.2 1654.4,583.9 1716.3,583.2 1778.2,582.7 1840.1,581.9 1902,581.7 1963.9,581.5" fill="none" stroke="#7f00ff" stroke-width="2.6" stroke-opacity="0.85" stroke-linejoin="round"/><rect x="1588.5" y="580.2" width="8" height="8" rx="1.3" fill="none" stroke="#7f00ff" stroke-width="2.6" stroke-opacity="0.72"/><rect x="1650.4" y="579.9" width="8" height="8" rx="1.3" fill="none" stroke="#7f00ff" stroke-width="2.6" stroke-opacity="0.72"/><rect x="1712.3" y="579.2" width="8" height="8" rx="1.3" fill="none" stroke="#7f00ff" stroke-width="2.6" stroke-opacity="0.72"/><rect x="1774.2" y="578.7" width="8" height="8" rx="1.3" fill="none" stroke="#7f00ff" stroke-width="2.6" stroke-opacity="0.72"/><rect x="1836.1" y="577.9" width="8" height="8" rx="1.3" fill="none" stroke="#7f00ff" stroke-width="2.6" stroke-opacity="0.72"/><rect x="1898" y="577.7" width="8" height="8" rx="1.3" fill="none" stroke="#7f00ff" stroke-width="2.6" stroke-opacity="0.72"/><rect x="1959.9" y="577.5" width="8" height="8" rx="1.3" fill="none" stroke="#7f00ff" stroke-width="2.6" stroke-opacity="0.72"/></g><rect x="1580.4" y="537.3" width="395.9" height="389.8" fill="none" stroke="#808080" stroke-width="2"/><path d="M1580.4 927.1h4.6M1580.4 829.65h4.6M1580.4 732.2h4.6M1580.4 634.75h4.6M1592.5 927.1v-4.6M1716.3 927.1v-4.6M1840.1 927.1v-4.6M1963.9 927.1v-4.6" stroke="#555" stroke-width="1.6" fill="none"/><text class="tk" x="1550.93" y="937.3" text-anchor="end">10</text><text class="tk" x="1573.68" y="928.3" text-anchor="end" style="font-size:16px">−3</text><text class="tk" x="1550.93" y="839.85" text-anchor="end">10</text><text class="tk" x="1573.88" y="830.85" text-anchor="end" style="font-size:16px">−1</text><text class="tk" x="1563.93" y="742.4" text-anchor="end">10</text><text class="tk" x="1574.88" y="733.4" text-anchor="end" style="font-size:16px">1</text><text class="tk" x="1563.93" y="644.95" text-anchor="end">10</text><text class="tk" x="1574.68" y="635.95" text-anchor="end" style="font-size:16px">3</text><text class="tk" x="1563.93" y="547.5" text-anchor="end">10</text><text class="tk" x="1574.8" y="538.5" text-anchor="end" style="font-size:16px">5</text><text class="tk" x="1592.5" y="948.6" text-anchor="middle">0</text><text class="tk" x="1716.3" y="948.6" text-anchor="middle">1</text><text class="tk" x="1840.1" y="948.6" text-anchor="middle">2</text><text class="tk" x="1963.9" y="948.6" text-anchor="middle">3</text><rect x="1713.2" y="884.3" width="248.7" height="34.2" fill="#fff" fill-opacity="0.8" stroke="#cfcfcf" stroke-width="1.6" rx="1"/><g fill="#111"><text x="1718.45" y="911.4" textLength="17.84" lengthAdjust="spacingAndGlyphs" style="font-family:'Caladea','Liberation Serif',serif;font-size:29px;font-style:italic;">N</text><text x="1735.47" y="916" textLength="6.96" lengthAdjust="spacingAndGlyphs" style="font-family:'Caladea','Liberation Serif',serif;font-size:20px;font-style:italic;">i</text><text x="1752.32" y="911.4" textLength="22.16" lengthAdjust="spacingAndGlyphs" style="font-family:'Caladea','Liberation Serif',serif;font-size:31px;">=</text><text x="1783.54" y="911.4" textLength="11.34" lengthAdjust="spacingAndGlyphs" style="font-family:'Caladea','Liberation Serif',serif;font-size:29px;">1</text><text x="1804.42" y="913.9" textLength="20.35" lengthAdjust="spacingAndGlyphs" style="font-family:'Caladea','Liberation Serif',serif;font-size:37.5px;">×</text><text x="1832.88" y="911.4" textLength="10.62" lengthAdjust="spacingAndGlyphs" style="font-family:'Caladea','Liberation Serif',serif;font-size:29px;">1</text><text x="1848.75" y="911.4" textLength="13.01" lengthAdjust="spacingAndGlyphs" style="font-family:'Caladea','Liberation Serif',serif;font-size:29px;">0</text><text x="1865.22" y="900.2" textLength="6.6" lengthAdjust="spacingAndGlyphs" style="font-family:'Caladea','Liberation Serif',serif;font-size:19px;">1</text><text x="1875.83" y="900.2" textLength="9.78" lengthAdjust="spacingAndGlyphs" style="font-family:'Caladea','Liberation Serif',serif;font-size:19px;">7</text><text x="1894.71" y="911.4" textLength="34.75" lengthAdjust="spacingAndGlyphs" style="font-family:'Caladea','Liberation Serif',serif;font-size:29px;">cm</text><text x="1929.64" y="900.2" textLength="14.82" lengthAdjust="spacingAndGlyphs" style="font-family:'Caladea','Liberation Serif',serif;font-size:19px;">−</text><text x="1945.4" y="900.2" textLength="10.41" lengthAdjust="spacingAndGlyphs" style="font-family:'Caladea','Liberation Serif',serif;font-size:19px;">3</text></g><rect x="1726.4" y="630.1" width="234.6" height="241.7" rx="6" fill="#fff" fill-opacity="0.8" stroke="#dcdcdc" stroke-width="1.6"/><path d="M1734.5 650.7H1788" stroke="#ff0000" stroke-width="2.6" stroke-opacity="0.85"/><rect x="1758.4" y="646.7" width="8" height="8" rx="1.3" fill="none" stroke="#ff0000" stroke-width="2.6" stroke-opacity="0.72"/><text class="lg" y="660" transform="translate(1808.4 0) scale(1.035 1)"><tspan x="0" font-style="italic">L</tspan><tspan dy="4.6" font-size="16.8px" font-style="italic">i</tspan><tspan dy="-4.6">=1850nm</tspan></text><path d="M1734.5 689.75H1788" stroke="#ffb260" stroke-width="2.6" stroke-opacity="0.85"/><rect x="1758.4" y="685.75" width="8" height="8" rx="1.3" fill="none" stroke="#ffb260" stroke-width="2.6" stroke-opacity="0.72"/><text class="lg" y="699.05" transform="translate(1808.4 0) scale(1.035 1)"><tspan x="0" font-style="italic">L</tspan><tspan dy="4.6" font-size="16.8px" font-style="italic">i</tspan><tspan dy="-4.6">=1450nm</tspan></text><path d="M1734.5 728.8H1788" stroke="#80feb3" stroke-width="2.6" stroke-opacity="0.85"/><rect x="1758.4" y="724.8" width="8" height="8" rx="1.3" fill="none" stroke="#80feb3" stroke-width="2.6" stroke-opacity="0.72"/><text class="lg" y="738.1" transform="translate(1808.4 0) scale(1.035 1)"><tspan x="0" font-style="italic">L</tspan><tspan dy="4.6" font-size="16.8px" font-style="italic">i</tspan><tspan dy="-4.6">=1050nm</tspan></text><path d="M1734.5 767.85H1788" stroke="#00b4eb" stroke-width="2.6" stroke-opacity="0.85"/><rect x="1758.4" y="763.85" width="8" height="8" rx="1.3" fill="none" stroke="#00b4eb" stroke-width="2.6" stroke-opacity="0.72"/><text class="lg" y="777.15" transform="translate(1808.4 0) scale(1.035 1)"><tspan x="0" font-style="italic">L</tspan><tspan dy="4.6" font-size="16.8px" font-style="italic">i</tspan><tspan dy="-4.6">=650nm</tspan></text><path d="M1734.5 806.9H1788" stroke="#3f61fa" stroke-width="2.6" stroke-opacity="0.85"/><rect x="1758.4" y="802.9" width="8" height="8" rx="1.3" fill="none" stroke="#3f61fa" stroke-width="2.6" stroke-opacity="0.72"/><text class="lg" y="816.2" transform="translate(1808.4 0) scale(1.035 1)"><tspan x="0" font-style="italic">L</tspan><tspan dy="4.6" font-size="16.8px" font-style="italic">i</tspan><tspan dy="-4.6">=450nm</tspan></text><path d="M1734.5 845.95H1788" stroke="#7f00ff" stroke-width="2.6" stroke-opacity="0.85"/><rect x="1758.4" y="841.95" width="8" height="8" rx="1.3" fill="none" stroke="#7f00ff" stroke-width="2.6" stroke-opacity="0.72"/><text class="lg" y="855.25" transform="translate(1808.4 0) scale(1.035 1)"><tspan x="0" font-style="italic">L</tspan><tspan dy="4.6" font-size="16.8px" font-style="italic">i</tspan><tspan dy="-4.6">=250nm</tspan></text><g fill="#000" transform="translate(33.9 688.1) rotate(-90)"><text x="-3.23" y="0" textLength="405.15" lengthAdjust="spacingAndGlyphs" style="font-family:'Carlito','Liberation Sans',sans-serif;font-size:47.3px;">Dark Count Rate [Hz]</text></g><g fill="#000"><text x="910.56" y="1016.5" textLength="347.73" lengthAdjust="spacingAndGlyphs" style="font-family:'Carlito','Liberation Sans',sans-serif;font-size:47.3px;">Excess Voltage [V]</text></g><g fill="#111" transform="translate(2032 387.9) rotate(-90)"><text x="0.24" y="0" textLength="20.27" lengthAdjust="spacingAndGlyphs" style="font-family:'Caladea','Liberation Serif',serif;font-size:33.4px;font-style:italic;">N</text><text x="21.67" y="4.9" textLength="14.38" lengthAdjust="spacingAndGlyphs" style="font-family:'Caladea','Liberation Serif',serif;font-size:22px;font-style:italic;">p</text><text x="46.49" y="1" textLength="23.32" lengthAdjust="spacingAndGlyphs" style="font-family:'Caladea','Liberation Serif',serif;font-size:40px;">=</text><text x="83.02" y="0" textLength="11.65" lengthAdjust="spacingAndGlyphs" style="font-family:'Caladea','Liberation Serif',serif;font-size:33.4px;">1</text><text x="105.29" y="2.6" textLength="23.32" lengthAdjust="spacingAndGlyphs" style="font-family:'Caladea','Liberation Serif',serif;font-size:44px;">×</text><text x="139.03" y="0" textLength="13.2" lengthAdjust="spacingAndGlyphs" style="font-family:'Caladea','Liberation Serif',serif;font-size:33.4px;">1</text><text x="156.12" y="0" textLength="15.57" lengthAdjust="spacingAndGlyphs" style="font-family:'Caladea','Liberation Serif',serif;font-size:33.4px;">0</text><text x="175.04" y="-12.9" textLength="9.59" lengthAdjust="spacingAndGlyphs" style="font-family:'Caladea','Liberation Serif',serif;font-size:24px;">1</text><text x="188.14" y="-12.9" textLength="11.84" lengthAdjust="spacingAndGlyphs" style="font-family:'Caladea','Liberation Serif',serif;font-size:24px;">8</text><text x="211.1" y="0" textLength="39.64" lengthAdjust="spacingAndGlyphs" style="font-family:'Caladea','Liberation Serif',serif;font-size:33.4px;">cm</text><text x="251.78" y="-12.9" textLength="18.84" lengthAdjust="spacingAndGlyphs" style="font-family:'Caladea','Liberation Serif',serif;font-size:24px;">−</text><text x="271.33" y="-12.9" textLength="12.01" lengthAdjust="spacingAndGlyphs" style="font-family:'Caladea','Liberation Serif',serif;font-size:24px;">3</text></g><g fill="#111" transform="translate(2032 872.9) rotate(-90)"><text x="0.24" y="0" textLength="20.27" lengthAdjust="spacingAndGlyphs" style="font-family:'Caladea','Liberation Serif',serif;font-size:33.4px;font-style:italic;">N</text><text x="21.67" y="4.9" textLength="14.38" lengthAdjust="spacingAndGlyphs" style="font-family:'Caladea','Liberation Serif',serif;font-size:22px;font-style:italic;">p</text><text x="46.49" y="1" textLength="23.32" lengthAdjust="spacingAndGlyphs" style="font-family:'Caladea','Liberation Serif',serif;font-size:40px;">=</text><text x="83.02" y="0" textLength="11.65" lengthAdjust="spacingAndGlyphs" style="font-family:'Caladea','Liberation Serif',serif;font-size:33.4px;">1</text><text x="105.29" y="2.6" textLength="23.32" lengthAdjust="spacingAndGlyphs" style="font-family:'Caladea','Liberation Serif',serif;font-size:44px;">×</text><text x="139.03" y="0" textLength="13.2" lengthAdjust="spacingAndGlyphs" style="font-family:'Caladea','Liberation Serif',serif;font-size:33.4px;">1</text><text x="156.12" y="0" textLength="15.57" lengthAdjust="spacingAndGlyphs" style="font-family:'Caladea','Liberation Serif',serif;font-size:33.4px;">0</text><text x="175.04" y="-12.9" textLength="9.59" lengthAdjust="spacingAndGlyphs" style="font-family:'Caladea','Liberation Serif',serif;font-size:24px;">1</text><text x="188" y="-12.9" textLength="11.81" lengthAdjust="spacingAndGlyphs" style="font-family:'Caladea','Liberation Serif',serif;font-size:24px;">7</text><text x="211.1" y="0" textLength="39.64" lengthAdjust="spacingAndGlyphs" style="font-family:'Caladea','Liberation Serif',serif;font-size:33.4px;">cm</text><text x="251.78" y="-12.9" textLength="18.84" lengthAdjust="spacingAndGlyphs" style="font-family:'Caladea','Liberation Serif',serif;font-size:24px;">−</text><text x="271.33" y="-12.9" textLength="12.01" lengthAdjust="spacingAndGlyphs" style="font-family:'Caladea','Liberation Serif',serif;font-size:24px;">3</text></g></svg></body></html>
